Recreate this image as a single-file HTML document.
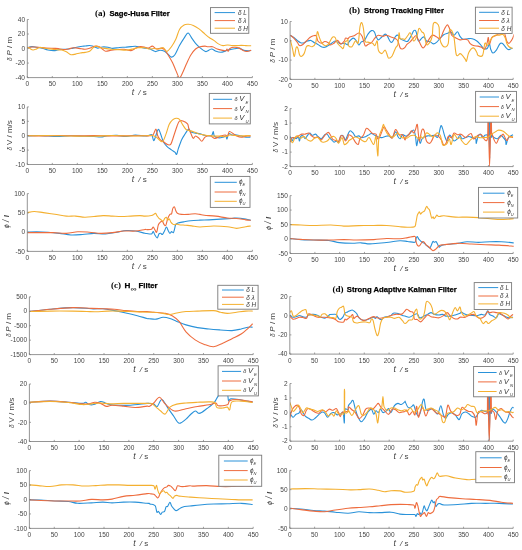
<!DOCTYPE html>
<html><head><meta charset="utf-8"><style>
html,body{margin:0;padding:0;background:#fff;width:522px;height:550px;overflow:hidden}
svg{display:block;filter:blur(0.3px)}
</style></head><body>
<svg width="522" height="550" viewBox="0 0 522 550" font-family="Liberation Sans, sans-serif">
<rect width="522" height="550" fill="#fff"/>
<g><clipPath id="clip_a1"><rect x="27.3" y="19" width="225.6" height="58.6"/></clipPath><path clip-path="url(#clip_a1)" d="M27.3,47.77C28.07,47.58 30.36,46.72 31.9,46.62C33.43,46.52 34.77,46.91 36.49,47.2C38.22,47.48 40.33,47.87 42.24,48.34C44.16,48.82 45.88,49.69 47.99,50.07C50.1,50.45 52.97,50.74 54.89,50.64C56.8,50.55 57.76,49.72 59.48,49.49C61.21,49.26 63.31,49.42 65.23,49.26C67.15,49.11 69.06,48.92 70.98,48.57C72.89,48.23 74.81,47.58 76.72,47.2C78.64,46.81 81.09,46.47 82.47,46.28C83.85,46.08 83.81,46.18 85,46.05C86.19,45.91 88.26,45.43 89.6,45.47C90.94,45.51 91.7,45.84 93.05,46.28C94.39,46.72 96.11,48 97.64,48.11C99.18,48.23 100.52,47.12 102.24,46.97C103.97,46.81 106.26,46.97 107.99,47.2C109.71,47.43 110.67,48.31 112.59,48.34C114.5,48.38 117.38,47.62 119.48,47.43C121.59,47.23 123.31,47.33 125.23,47.2C127.15,47.06 129.25,46.77 130.98,46.62C132.7,46.47 134.04,46.18 135.57,46.28C137.11,46.37 138.6,46.89 140.17,47.2C141.74,47.5 143.43,47.85 145,48.11C146.57,48.38 147.87,48.23 149.6,48.8C151.32,49.38 153.62,51.33 155.34,51.56C157.07,51.79 158.41,50.22 159.94,50.18C161.48,50.15 163.2,50.66 164.54,51.33C165.88,52 166.84,53.25 167.99,54.21C169.14,55.16 170.29,56.98 171.44,57.08C172.59,57.18 173.54,56.7 174.89,54.78C176.23,52.87 177.95,48.36 179.48,45.59C181.02,42.81 182.64,40.22 184.08,38.11C185.52,36.01 186.76,32.85 188.1,32.94C189.44,33.04 190.88,36.97 192.13,38.69C193.37,40.41 194.23,41.75 195.57,43.29C196.92,44.82 198.6,46.54 200.17,47.89C201.74,49.23 203.88,50.76 205,51.33C206.12,51.91 205.81,51.72 206.9,51.33C207.98,50.95 209.96,49.03 211.49,49.03C213.03,49.03 214.56,50.8 216.09,51.33C217.62,51.87 219.16,52.29 220.69,52.25C222.22,52.21 224.14,51.45 225.29,51.1C226.44,50.76 226.82,50.43 227.59,50.18C228.35,49.93 228.74,49.84 229.89,49.61C231.03,49.38 232.95,49.05 234.48,48.8C236.02,48.56 237.55,47.89 239.08,48.11C240.61,48.34 242.15,49.74 243.68,50.18C245.21,50.62 247.03,50.72 248.28,50.76C249.52,50.8 250.67,50.47 251.15,50.41" fill="none" stroke="#2a92d9" stroke-width="1.1" stroke-linejoin="round"/><path clip-path="url(#clip_a1)" d="M27.3,47.77C28.07,47.64 29.98,47.06 31.9,46.97C33.81,46.87 36.49,47 38.79,47.2C41.09,47.39 43.2,47.92 45.69,48.11C48.18,48.31 51.63,48.27 53.74,48.34C55.84,48.42 56.8,48.38 58.33,48.57C59.87,48.77 61.21,49.44 62.93,49.49C64.66,49.55 66.95,49.21 68.68,48.92C70.4,48.63 71.55,47.87 73.28,47.77C75,47.67 77.07,48.1 79.02,48.34C80.98,48.59 83.24,49.26 85,49.26C86.76,49.26 88.07,48.84 89.6,48.34C91.13,47.85 92.66,46.56 94.2,46.28C95.73,45.99 97.45,46.18 98.79,46.62C100.13,47.06 101.09,48.15 102.24,48.92C103.39,49.69 104.35,50.97 105.69,51.22C107.03,51.47 108.37,50.7 110.29,50.41C112.2,50.13 114.89,49.69 117.18,49.49C119.48,49.3 121.78,49.07 124.08,49.26C126.38,49.46 129.06,50.8 130.98,50.64C132.89,50.49 134.04,49.02 135.57,48.34C137.11,47.67 138.6,46.81 140.17,46.62C141.74,46.43 143.62,46.95 145,47.2C146.38,47.44 147.2,48.29 148.45,48.11C149.69,47.94 151.13,46.01 152.47,46.16C153.81,46.31 155.06,48.71 156.49,49.03C157.93,49.36 159.75,48.02 161.09,48.11C162.43,48.21 163.39,48.5 164.54,49.61C165.69,50.72 166.65,52.58 167.99,54.78C169.33,56.98 171.25,60.15 172.59,62.83C173.93,65.51 174.89,68.38 176.03,70.87C177.18,73.36 178.33,77.58 179.48,77.77C180.63,77.96 181.78,74.32 182.93,72.02C184.08,69.72 185.04,66.85 186.38,63.98C187.72,61.1 189.44,57.27 190.98,54.78C192.51,52.29 194.04,50.38 195.57,49.03C197.11,47.69 198.6,47.21 200.17,46.74C201.74,46.26 203.69,46.16 205,46.16C206.31,46.16 206.77,46.64 208.05,46.74C209.32,46.83 211.11,46.35 212.64,46.74C214.18,47.12 215.52,48.42 217.24,49.03C218.97,49.65 221.55,50.13 222.99,50.41C224.43,50.7 225.19,50.99 225.86,50.76C226.53,50.53 226.63,48.94 227.01,49.03C227.39,49.13 227.68,51.43 228.16,51.33C228.64,51.24 228.83,49.13 229.89,48.46C230.94,47.79 232.95,47.37 234.48,47.31C236.02,47.25 237.55,47.54 239.08,48.11C240.61,48.69 242.34,50.22 243.68,50.76C245.02,51.3 245.88,51.43 247.13,51.33C248.37,51.24 250.48,50.38 251.15,50.18" fill="none" stroke="#ee6c3e" stroke-width="1.1" stroke-linejoin="round"/><path clip-path="url(#clip_a1)" d="M27.3,47.2C27.68,47.39 28.64,47.87 29.6,48.34C30.56,48.82 31.9,49.97 33.05,50.07C34.2,50.16 35.34,49.36 36.49,48.92C37.64,48.48 38.6,47.56 39.94,47.43C41.28,47.29 42.82,47.87 44.54,48.11C46.26,48.36 48.18,48.65 50.29,48.92C52.39,49.19 55.27,49.53 57.18,49.72C59.1,49.92 60.25,49.72 61.78,50.07C63.31,50.41 64.85,51.03 66.38,51.79C67.91,52.56 69.44,54.28 70.98,54.67C72.51,55.05 74.04,54.38 75.57,54.09C77.11,53.8 78.6,53.23 80.17,52.94C81.74,52.66 83.43,52.66 85,52.37C86.57,52.08 88.26,51.98 89.6,51.22C90.94,50.45 91.9,48.63 93.05,47.77C94.2,46.91 95.34,46.1 96.49,46.05C97.64,45.99 98.6,47.04 99.94,47.43C101.28,47.81 102.62,48.04 104.54,48.34C106.46,48.65 108.95,49.03 111.44,49.26C113.93,49.49 116.99,49.59 119.48,49.72C121.97,49.86 124.08,50.2 126.38,50.07C128.68,49.93 131.36,49.3 133.28,48.92C135.19,48.54 135.92,47.96 137.87,47.77C139.83,47.58 143.05,47.56 145,47.77C146.95,47.98 148.07,48.92 149.6,49.03C151.13,49.15 152.66,48.46 154.2,48.46C155.73,48.46 157.26,49.17 158.79,49.03C160.33,48.9 162.05,47.27 163.39,47.66C164.73,48.04 165.5,51.49 166.84,51.33C168.18,51.18 169.9,48.84 171.44,46.74C172.97,44.63 174.69,41.56 176.03,38.69C177.38,35.82 178.14,31.79 179.48,29.49C180.82,27.2 182.55,25.76 184.08,24.9C185.61,24.03 187.15,24.23 188.68,24.32C190.21,24.42 191.55,24.7 193.28,25.47C195,26.24 197.07,27.48 199.02,28.92C200.98,30.36 203.3,32.66 205,34.09C206.7,35.53 207.73,36.49 209.2,37.54C210.66,38.59 212.26,39.36 213.79,40.41C215.33,41.47 216.86,43 218.39,43.86C219.92,44.72 221.46,45.39 222.99,45.59C224.52,45.78 226.05,45.01 227.59,45.01C229.12,45.01 230.65,45.49 232.18,45.59C233.72,45.68 235.25,45.62 236.78,45.59C238.31,45.55 239.85,45.36 241.38,45.36C242.91,45.36 244.35,45.51 245.98,45.59C247.61,45.66 250.29,45.78 251.15,45.82" fill="none" stroke="#f4b030" stroke-width="1.1" stroke-linejoin="round"/><path d="M27.3 19.5 V77.6 H252.4" fill="none" stroke="#7a7a7a" stroke-width="0.8"/><text x="27.3" y="86" text-anchor="middle" font-size="6.5" fill="#444444">0</text><text x="52.31" y="86" text-anchor="middle" font-size="6.5" fill="#444444">50</text><text x="77.32" y="86" text-anchor="middle" font-size="6.5" fill="#444444">100</text><text x="102.33" y="86" text-anchor="middle" font-size="6.5" fill="#444444">150</text><text x="127.34" y="86" text-anchor="middle" font-size="6.5" fill="#444444">200</text><text x="152.36" y="86" text-anchor="middle" font-size="6.5" fill="#444444">250</text><text x="177.37" y="86" text-anchor="middle" font-size="6.5" fill="#444444">300</text><text x="202.38" y="86" text-anchor="middle" font-size="6.5" fill="#444444">350</text><text x="227.39" y="86" text-anchor="middle" font-size="6.5" fill="#444444">400</text><text x="252.4" y="86" text-anchor="middle" font-size="6.5" fill="#444444">450</text><text x="25" y="79.8" text-anchor="end" font-size="6.5" fill="#444444">-40</text><text x="25" y="65.27" text-anchor="end" font-size="6.5" fill="#444444">-20</text><text x="25" y="50.75" text-anchor="end" font-size="6.5" fill="#444444">0</text><text x="25" y="36.23" text-anchor="end" font-size="6.5" fill="#444444">20</text><text x="25" y="21.7" text-anchor="end" font-size="6.5" fill="#444444">40</text><path d="M27.3 77.6 v-1.6 M52.31 77.6 v-1.6 M77.32 77.6 v-1.6 M102.33 77.6 v-1.6 M127.34 77.6 v-1.6 M152.36 77.6 v-1.6 M177.37 77.6 v-1.6 M202.38 77.6 v-1.6 M227.39 77.6 v-1.6 M252.4 77.6 v-1.6 M27.3 77.6 h1.6 M27.3 63.07 h1.6 M27.3 48.55 h1.6 M27.3 34.02 h1.6 M27.3 19.5 h1.6" stroke="#7a7a7a" stroke-width="0.7"/><text y="95" text-anchor="middle" font-size="8" fill="#444444"><tspan x="133.05" font-style="italic" font-size="8.8">t</tspan><tspan x="139.45" font-style="italic">/</tspan><tspan x="144.75">s</tspan></text><text transform="translate(12.2,48.85) rotate(-90)" text-anchor="middle" font-size="8" fill="#444444"><tspan font-style="italic" font-size="6.5">δ </tspan><tspan font-style="italic">P</tspan> / m</text><rect x="210.5" y="7.6" width="38.3" height="25.7" fill="#fff" stroke="#7a7a7a" stroke-width="0.9"/><line x1="214.6" y1="12.6" x2="235" y2="12.6" stroke="#2a92d9" stroke-width="1"/><text x="238" y="15" font-size="6.4" font-style="italic" fill="#383838">δ <tspan font-style="italic">L</tspan></text><line x1="214.6" y1="20.6" x2="235" y2="20.6" stroke="#ee6c3e" stroke-width="1"/><text x="238" y="23" font-size="6.4" font-style="italic" fill="#383838">δ λ</text><line x1="214.6" y1="28.2" x2="235" y2="28.2" stroke="#f4b030" stroke-width="1"/><text x="238" y="30.6" font-size="6.4" font-style="italic" fill="#383838">δ <tspan font-style="italic">H</tspan></text></g><g><clipPath id="clip_a2"><rect x="27.3" y="106.4" width="225.6" height="58.1"/></clipPath><path clip-path="url(#clip_a2)" d="M27.3,136.03C29.21,135.96 35.34,135.57 38.79,135.57C42.24,135.57 44.92,135.88 47.99,136.03C51.05,136.19 53.35,136.53 57.18,136.49C61.02,136.46 66.38,135.84 70.98,135.8C75.57,135.77 80.94,136.15 84.77,136.26C88.6,136.38 91.28,136.38 93.97,136.49C96.65,136.61 98.56,137.07 100.86,136.95C103.16,136.84 105.08,136.07 107.76,135.8C110.44,135.54 113.89,135.23 116.95,135.34C120.02,135.46 123.08,136.53 126.15,136.49C129.21,136.46 132.2,135.19 135.34,135.11C138.49,135.04 142.62,136.03 145,136.03C147.38,136.03 148.45,135.31 149.6,135.11C150.75,134.92 151.23,133.97 151.9,134.89C152.57,135.8 153.05,140.25 153.62,140.63C154.2,141.02 154.58,139.06 155.34,137.18C156.11,135.31 157.36,129.94 158.22,129.37C159.08,128.79 159.66,131.67 160.52,133.74C161.38,135.8 162.34,139.67 163.39,141.78C164.44,143.89 165.5,145.04 166.84,146.38C168.18,147.72 170.1,148.87 171.44,149.83C172.78,150.79 174.02,151.36 174.89,152.13C175.75,152.89 176.03,155 176.61,154.43C177.18,153.85 177.47,151.17 178.33,148.68C179.2,146.19 180.63,141.97 181.78,139.48C182.93,136.99 184.08,135.46 185.23,133.74C186.38,132.01 187.72,129.43 188.68,129.14C189.64,128.85 189.83,131.34 190.98,132.01C192.13,132.68 194.04,132.87 195.57,133.16C197.11,133.45 198.6,133.35 200.17,133.74C201.74,134.12 203.11,135.16 205,135.46C206.89,135.76 210.12,136.18 211.49,135.52C212.86,134.86 212.74,131.4 213.22,131.49C213.7,131.59 213.51,135.04 214.37,136.09C215.23,137.15 216.95,137.62 218.39,137.82C219.83,138.01 221.74,137.53 222.99,137.24C224.23,136.95 225.19,135.8 225.86,136.09C226.53,136.38 226.53,139.35 227.01,138.97C227.49,138.58 227.87,134.46 228.74,133.79C229.6,133.12 230.84,134.75 232.18,134.94C233.52,135.13 235.25,134.75 236.78,134.94C238.31,135.13 239.85,135.71 241.38,136.09C242.91,136.48 244.44,137.09 245.98,137.24C247.51,137.39 249.81,137.05 250.57,137.01" fill="none" stroke="#2a92d9" stroke-width="1.1" stroke-linejoin="round"/><path clip-path="url(#clip_a2)" d="M27.3,135.57C29.98,135.65 38.03,136.03 43.39,136.03C48.75,136.03 54.12,135.61 59.48,135.57C64.85,135.54 69.83,135.8 75.57,135.8C81.32,135.8 87.84,135.54 93.97,135.57C100.1,135.61 106.61,136 112.36,136.03C118.1,136.07 123.01,135.84 128.45,135.8C133.89,135.77 141.48,135.8 145,135.8C148.52,135.8 148.26,135.96 149.6,135.8C150.94,135.65 151.99,136 153.05,134.89C154.1,133.77 155.15,129.04 155.92,129.14C156.69,129.23 156.97,133.74 157.64,135.46C158.31,137.18 158.98,138.43 159.94,139.48C160.9,140.54 162.05,140.92 163.39,141.78C164.73,142.64 166.74,144.27 167.99,144.66C169.23,145.04 169.9,145.52 170.86,144.08C171.82,142.64 172.68,139.1 173.74,136.03C174.79,132.97 176.23,128.18 177.18,125.69C178.14,123.2 178.52,121.86 179.48,121.09C180.44,120.33 181.59,120.61 182.93,121.09C184.27,121.57 186.57,122.82 187.53,123.97C188.49,125.11 188.1,126.36 188.68,127.99C189.25,129.62 190.21,132.01 190.98,133.74C191.74,135.46 192.51,137.95 193.28,138.33C194.04,138.72 194.62,136.03 195.57,136.03C196.53,136.03 197.97,137.47 199.02,138.33C200.08,139.2 200.9,141.4 201.9,141.21C202.89,141.02 203.78,138.13 205,137.18C206.22,136.24 207.92,135.51 209.2,135.52C210.47,135.53 211.69,136.76 212.64,137.24C213.6,137.72 213.6,138.58 214.94,138.39C216.28,138.2 218.97,136.67 220.69,136.09C222.41,135.52 224.14,134.94 225.29,134.94C226.44,134.94 226.92,136.67 227.59,136.09C228.26,135.52 228.35,131.88 229.31,131.49C230.27,131.11 232.09,133.03 233.33,133.79C234.58,134.56 235.44,135.52 236.78,136.09C238.12,136.67 239.85,137.24 241.38,137.24C242.91,137.24 244.44,136.28 245.98,136.09C247.51,135.9 249.81,136.09 250.57,136.09" fill="none" stroke="#ee6c3e" stroke-width="1.1" stroke-linejoin="round"/><path clip-path="url(#clip_a2)" d="M27.3,135.8C30.75,135.77 40.71,135.54 47.99,135.57C55.27,135.61 63.31,135.92 70.98,136.03C78.64,136.15 87.07,136.34 93.97,136.26C100.86,136.19 106.61,135.61 112.36,135.57C118.1,135.54 123.01,136 128.45,136.03C133.89,136.07 141.09,135.9 145,135.8C148.91,135.71 149.98,135.23 151.9,135.46C153.81,135.69 154.77,136.13 156.49,137.18C158.22,138.24 160.71,142.16 162.24,141.78C163.77,141.4 164.54,137.76 165.69,134.89C166.84,132.01 167.99,127.03 169.14,124.54C170.29,122.05 171.44,121 172.59,119.94C173.74,118.89 174.89,118.31 176.03,118.22C177.18,118.12 178.33,118.22 179.48,119.37C180.63,120.52 181.78,123.39 182.93,125.11C184.08,126.84 185.04,128.75 186.38,129.71C187.72,130.67 189.44,130.38 190.98,130.86C192.51,131.34 194.04,132.01 195.57,132.59C197.11,133.16 198.6,133.89 200.17,134.31C201.74,134.73 203.88,134.91 205,135.11C206.12,135.32 205.43,135.35 206.9,135.52C208.36,135.68 211.49,136 213.79,136.09C216.09,136.19 218.77,136 220.69,136.09C222.61,136.19 223.75,136.86 225.29,136.67C226.82,136.48 228.35,135.13 229.89,134.94C231.42,134.75 232.57,135.36 234.48,135.52C236.4,135.67 238.7,135.86 241.38,135.86C244.06,135.86 249.04,135.57 250.57,135.52" fill="none" stroke="#f4b030" stroke-width="1.1" stroke-linejoin="round"/><path d="M27.3 106.9 V164.5 H252.4" fill="none" stroke="#7a7a7a" stroke-width="0.8"/><text x="27.3" y="172.9" text-anchor="middle" font-size="6.5" fill="#444444">0</text><text x="52.31" y="172.9" text-anchor="middle" font-size="6.5" fill="#444444">50</text><text x="77.32" y="172.9" text-anchor="middle" font-size="6.5" fill="#444444">100</text><text x="102.33" y="172.9" text-anchor="middle" font-size="6.5" fill="#444444">150</text><text x="127.34" y="172.9" text-anchor="middle" font-size="6.5" fill="#444444">200</text><text x="152.36" y="172.9" text-anchor="middle" font-size="6.5" fill="#444444">250</text><text x="177.37" y="172.9" text-anchor="middle" font-size="6.5" fill="#444444">300</text><text x="202.38" y="172.9" text-anchor="middle" font-size="6.5" fill="#444444">350</text><text x="227.39" y="172.9" text-anchor="middle" font-size="6.5" fill="#444444">400</text><text x="252.4" y="172.9" text-anchor="middle" font-size="6.5" fill="#444444">450</text><text x="25" y="166.7" text-anchor="end" font-size="6.5" fill="#444444">-10</text><text x="25" y="152.3" text-anchor="end" font-size="6.5" fill="#444444">-5</text><text x="25" y="137.9" text-anchor="end" font-size="6.5" fill="#444444">0</text><text x="25" y="123.5" text-anchor="end" font-size="6.5" fill="#444444">5</text><text x="25" y="109.1" text-anchor="end" font-size="6.5" fill="#444444">10</text><path d="M27.3 164.5 v-1.6 M52.31 164.5 v-1.6 M77.32 164.5 v-1.6 M102.33 164.5 v-1.6 M127.34 164.5 v-1.6 M152.36 164.5 v-1.6 M177.37 164.5 v-1.6 M202.38 164.5 v-1.6 M227.39 164.5 v-1.6 M252.4 164.5 v-1.6 M27.3 164.5 h1.6 M27.3 150.1 h1.6 M27.3 135.7 h1.6 M27.3 121.3 h1.6 M27.3 106.9 h1.6" stroke="#7a7a7a" stroke-width="0.7"/><text y="181.9" text-anchor="middle" font-size="8" fill="#444444"><tspan x="133.05" font-style="italic" font-size="8.8">t</tspan><tspan x="139.45" font-style="italic">/</tspan><tspan x="144.75">s</tspan></text><text transform="translate(11.5,135.35) rotate(-90)" text-anchor="middle" font-size="8" fill="#444444"><tspan font-style="italic" font-size="6.5">δ </tspan><tspan>V</tspan> / m/s</text><rect x="209.3" y="93.4" width="41" height="30.5" fill="#fff" stroke="#7a7a7a" stroke-width="0.9"/><line x1="213.1" y1="99.3" x2="232.1" y2="99.3" stroke="#2a92d9" stroke-width="1"/><text x="234.5" y="101.3" font-size="6.4" font-style="italic" fill="#383838"><tspan font-size="5.5">δ</tspan> <tspan font-size="7.6">V</tspan><tspan font-size="4.3" dx="1" dy="2.8">E</tspan></text><line x1="213.1" y1="108.6" x2="232.1" y2="108.6" stroke="#ee6c3e" stroke-width="1"/><text x="234.5" y="110.6" font-size="6.4" font-style="italic" fill="#383838"><tspan font-size="5.5">δ</tspan> <tspan font-size="7.6">V</tspan><tspan font-size="4.3" dx="1" dy="2.8">N</tspan></text><line x1="213.1" y1="118.1" x2="232.1" y2="118.1" stroke="#f4b030" stroke-width="1"/><text x="234.5" y="120.1" font-size="6.4" font-style="italic" fill="#383838"><tspan font-size="5.5">δ</tspan> <tspan font-size="7.6">V</tspan><tspan font-size="4.3" dx="1" dy="2.8">U</tspan></text></g><g><clipPath id="clip_a3"><rect x="27.3" y="193.1" width="225.6" height="58.3"/></clipPath><path clip-path="url(#clip_a3)" d="M27.3,232.18C28.83,232.11 33.05,231.72 36.49,231.72C39.94,231.72 44.16,231.92 47.99,232.18C51.82,232.45 55.65,232.87 59.48,233.33C63.31,233.79 67.15,234.75 70.98,234.94C74.81,235.13 78.64,234.75 82.47,234.48C86.3,234.21 90.13,233.41 93.97,233.33C97.8,233.26 101.63,234.21 105.46,234.02C109.29,233.83 113.51,232.76 116.95,232.18C120.4,231.61 123.08,230.77 126.15,230.57C129.21,230.38 132.2,230.57 135.34,231.03C138.49,231.49 143.07,232.91 145,233.33C146.93,233.75 145.81,233.47 146.9,233.56C147.98,233.66 150.44,234.23 151.49,233.91C152.55,233.58 152.64,231.42 153.22,231.61C153.79,231.8 154.27,234 154.94,235.06C155.61,236.11 156.57,238.12 157.24,237.93C157.91,237.74 158.39,234.67 158.97,233.91C159.54,233.14 160.11,233.24 160.69,233.33C161.26,233.43 161.74,234.96 162.41,234.48C163.08,234 164.04,231.7 164.71,230.46C165.38,229.21 165.86,227.01 166.44,227.01C167.01,227.01 167.59,229.41 168.16,230.46C168.74,231.51 169.31,233.14 169.89,233.33C170.46,233.52 171.03,231.7 171.61,231.61C172.18,231.51 172.85,233.14 173.33,232.76C173.81,232.38 174.1,230.65 174.48,229.31C174.87,227.97 175.06,225.77 175.63,224.71C176.21,223.66 176.59,223.47 177.93,222.99C179.27,222.51 181.57,222.22 183.68,221.84C185.79,221.46 187.85,220.98 190.57,220.69C193.3,220.4 196.93,220.26 200,220.11C203.07,219.97 205.56,219.99 208.97,219.83C212.38,219.66 216.63,219.37 220.46,219.14C224.29,218.91 229.27,218.64 231.95,218.45C234.64,218.26 234.25,217.87 236.55,217.99C238.85,218.1 243.37,218.75 245.75,219.14C248.12,219.52 249.96,220.1 250.8,220.29" fill="none" stroke="#2a92d9" stroke-width="1.1" stroke-linejoin="round"/><path clip-path="url(#clip_a3)" d="M27.3,232.64C29.21,232.64 34.58,232.64 38.79,232.64C43.01,232.64 47.99,232.53 52.59,232.64C57.18,232.76 62.16,233.49 66.38,233.33C70.59,233.18 74.04,231.92 77.87,231.72C81.7,231.53 85.54,231.92 89.37,232.18C93.2,232.45 97.03,233.26 100.86,233.33C104.69,233.41 108.52,233.03 112.36,232.64C116.19,232.26 120.02,231.3 123.85,231.03C127.68,230.77 131.82,231.3 135.34,231.03C138.87,230.77 143.07,229.66 145,229.43C146.93,229.2 145.81,229.67 146.9,229.66C147.98,229.64 150.44,229.75 151.49,229.31C152.55,228.87 152.64,226.92 153.22,227.01C153.79,227.11 154.37,229.02 154.94,229.89C155.52,230.75 156.09,233.05 156.67,232.18C157.24,231.32 157.72,226.44 158.39,224.71C159.06,222.99 160.02,222.41 160.69,221.84C161.36,221.26 161.84,220.79 162.41,221.26C162.99,221.74 163.56,224.04 164.14,224.71C164.71,225.38 165.29,226.25 165.86,225.29C166.44,224.33 166.92,220.79 167.59,218.97C168.26,217.15 169.21,215.23 169.89,214.37C170.56,213.51 171.13,214.75 171.61,213.79C172.09,212.84 172.28,209.77 172.76,208.62C173.24,207.47 174,206.61 174.48,206.9C174.96,207.18 175.15,209.29 175.63,210.34C176.11,211.4 176.4,212.55 177.36,213.22C178.31,213.89 179.56,214.18 181.38,214.37C183.2,214.56 185.98,214.46 188.28,214.37C190.57,214.27 193.22,213.79 195.17,213.79C197.13,213.79 198.47,214.13 200,214.37C201.53,214.61 201.72,214.93 204.37,215.23C207.01,215.53 212.03,215.69 215.86,216.15C219.69,216.61 223.91,217.61 227.36,217.99C230.8,218.37 233.49,218.14 236.55,218.45C239.62,218.75 243.37,219.52 245.75,219.83C248.12,220.13 249.96,220.21 250.8,220.29" fill="none" stroke="#ee6c3e" stroke-width="1.1" stroke-linejoin="round"/><path clip-path="url(#clip_a3)" d="M27.3,212.64C28.45,212.45 31.51,211.49 34.2,211.49C36.88,211.49 39.94,212.18 43.39,212.64C46.84,213.1 51.05,213.68 54.89,214.25C58.72,214.83 62.93,215.79 66.38,216.09C69.83,216.4 72.51,215.9 75.57,216.09C78.64,216.28 81.7,217.16 84.77,217.24C87.84,217.32 90.9,216.82 93.97,216.55C97.03,216.28 100.1,215.71 103.16,215.63C106.23,215.56 109.29,215.94 112.36,216.09C115.42,216.25 118.49,216.55 121.55,216.55C124.62,216.55 127.68,216.25 130.75,216.09C133.81,215.94 137.57,215.63 139.94,215.63C142.32,215.63 143.07,216.11 145,216.09C146.93,216.07 150.03,215.8 151.49,215.52C152.96,215.23 153.12,214.75 153.79,214.37C154.46,213.98 154.94,212.93 155.52,213.22C156.09,213.51 156.67,215.23 157.24,216.09C157.82,216.95 158.39,217.82 158.97,218.39C159.54,218.97 160.02,219.06 160.69,219.54C161.36,220.02 162.32,221.46 162.99,221.26C163.66,221.07 164.14,219.06 164.71,218.39C165.29,217.72 165.96,216.95 166.44,217.24C166.92,217.53 167.11,219.83 167.59,220.11C168.07,220.4 168.74,218.58 169.31,218.97C169.89,219.35 170.46,221.55 171.03,222.41C171.61,223.28 172.18,223.75 172.76,224.14C173.33,224.52 173.91,224.71 174.48,224.71C175.06,224.71 175.44,224.14 176.21,224.14C176.97,224.14 177.45,224.52 179.08,224.71C180.71,224.9 183.87,225.1 185.98,225.29C188.08,225.48 189.39,225.57 191.72,225.86C194.06,226.15 196.36,226.98 200,227.01C203.64,227.04 209,226.08 213.56,226.03C218.12,225.99 223.52,226.34 227.36,226.72C231.19,227.11 233.49,228.33 236.55,228.33C239.62,228.33 243.37,227.11 245.75,226.72C248.12,226.34 249.96,226.15 250.8,226.03" fill="none" stroke="#f4b030" stroke-width="1.1" stroke-linejoin="round"/><path d="M27.3 193.6 V251.4 H252.4" fill="none" stroke="#7a7a7a" stroke-width="0.8"/><text x="27.3" y="259.8" text-anchor="middle" font-size="6.5" fill="#444444">0</text><text x="52.31" y="259.8" text-anchor="middle" font-size="6.5" fill="#444444">50</text><text x="77.32" y="259.8" text-anchor="middle" font-size="6.5" fill="#444444">100</text><text x="102.33" y="259.8" text-anchor="middle" font-size="6.5" fill="#444444">150</text><text x="127.34" y="259.8" text-anchor="middle" font-size="6.5" fill="#444444">200</text><text x="152.36" y="259.8" text-anchor="middle" font-size="6.5" fill="#444444">250</text><text x="177.37" y="259.8" text-anchor="middle" font-size="6.5" fill="#444444">300</text><text x="202.38" y="259.8" text-anchor="middle" font-size="6.5" fill="#444444">350</text><text x="227.39" y="259.8" text-anchor="middle" font-size="6.5" fill="#444444">400</text><text x="252.4" y="259.8" text-anchor="middle" font-size="6.5" fill="#444444">450</text><text x="25" y="253.6" text-anchor="end" font-size="6.5" fill="#444444">-50</text><text x="25" y="234.33" text-anchor="end" font-size="6.5" fill="#444444">0</text><text x="25" y="215.07" text-anchor="end" font-size="6.5" fill="#444444">50</text><text x="25" y="195.8" text-anchor="end" font-size="6.5" fill="#444444">100</text><path d="M27.3 251.4 v-1.6 M52.31 251.4 v-1.6 M77.32 251.4 v-1.6 M102.33 251.4 v-1.6 M127.34 251.4 v-1.6 M152.36 251.4 v-1.6 M177.37 251.4 v-1.6 M202.38 251.4 v-1.6 M227.39 251.4 v-1.6 M252.4 251.4 v-1.6 M27.3 251.4 h1.6 M27.3 232.13 h1.6 M27.3 212.87 h1.6 M27.3 193.6 h1.6" stroke="#7a7a7a" stroke-width="0.7"/><text y="268.8" text-anchor="middle" font-size="8" fill="#444444"><tspan x="133.05" font-style="italic" font-size="8.8">t</tspan><tspan x="139.45" font-style="italic">/</tspan><tspan x="144.75">s</tspan></text><text transform="translate(9.44,221.5) rotate(-90)" text-anchor="middle" font-size="8.5" fill="#444444"><tspan font-style="italic"><tspan font-size="7">ϕ</tspan>  /  <tspan font-weight="bold">ı</tspan></tspan></text><rect x="210.3" y="176.4" width="39.7" height="31" fill="#fff" stroke="#7a7a7a" stroke-width="0.9"/><line x1="214.6" y1="182.3" x2="236.8" y2="182.3" stroke="#2a92d9" stroke-width="1"/><text x="239" y="184.3" font-size="6.4" font-style="italic" fill="#383838">ϕ<tspan font-size="4" dy="2">E</tspan></text><line x1="214.6" y1="192" x2="236.8" y2="192" stroke="#ee6c3e" stroke-width="1"/><text x="239" y="194" font-size="6.4" font-style="italic" fill="#383838">ϕ<tspan font-size="4" dy="2">N</tspan></text><line x1="214.6" y1="201.3" x2="236.8" y2="201.3" stroke="#f4b030" stroke-width="1"/><text x="239" y="203.3" font-size="6.4" font-style="italic" fill="#383838">ϕ<tspan font-size="4" dy="2">U</tspan></text></g><g><clipPath id="clip_c1"><rect x="29.4" y="296.3" width="224.3" height="58.3"/></clipPath><path clip-path="url(#clip_c1)" d="M29.3,311.55C32.75,311.17 42.71,309.9 49.99,309.25C57.27,308.6 66.08,307.72 72.98,307.64C79.87,307.57 86.39,308.6 91.37,308.79C96.35,308.98 99.03,308.49 102.86,308.79C106.69,309.1 110.52,309.94 114.36,310.63C118.19,311.32 122.02,312.09 125.85,312.93C129.68,313.77 133.82,314.77 137.34,315.69C140.87,316.61 145.02,317.95 147,318.45C148.98,318.95 147.68,318.56 149.2,318.68C150.71,318.79 153.79,319.37 156.09,319.14C158.39,318.91 160.69,317.41 162.99,317.3C165.29,317.18 167.59,317.76 169.89,318.45C172.18,319.14 174.1,320.36 176.78,321.44C179.46,322.51 182.53,323.85 185.98,324.89C189.43,325.92 193.64,326.95 197.47,327.64C201.3,328.33 205.13,328.64 208.97,329.02C212.8,329.41 216.63,329.67 220.46,329.94C224.29,330.21 228.51,330.79 231.95,330.63C235.4,330.48 238.47,329.6 241.15,329.02C243.83,328.45 246.13,327.49 248.05,327.18C249.96,326.88 251.88,327.18 252.64,327.18" fill="none" stroke="#2a92d9" stroke-width="1.1" stroke-linejoin="round"/><path clip-path="url(#clip_c1)" d="M29.3,311.55C32.75,311.17 42.71,309.9 49.99,309.25C57.27,308.6 66.08,307.8 72.98,307.64C79.87,307.49 86.39,308.14 91.37,308.33C96.35,308.52 99.03,308.64 102.86,308.79C106.69,308.95 110.52,308.95 114.36,309.25C118.19,309.56 122.02,310.25 125.85,310.63C129.68,311.02 133.82,311.4 137.34,311.55C140.87,311.7 144.26,311.44 147,311.55C149.74,311.67 150.75,311.93 153.79,312.24C156.84,312.55 162.22,312.82 165.29,313.39C168.35,313.97 169.89,314.35 172.18,315.69C174.48,317.03 176.78,318.75 179.08,321.44C181.38,324.12 183.3,328.72 185.98,331.78C188.66,334.85 192.11,337.72 195.17,339.83C198.24,341.93 201.3,343.28 204.37,344.43C207.43,345.57 210.5,346.92 213.56,346.72C216.63,346.53 219.69,344.62 222.76,343.28C225.82,341.93 228.89,340.21 231.95,338.68C235.02,337.15 238.47,335.8 241.15,334.08C243.83,332.36 246.13,330.06 248.05,328.33C249.96,326.61 251.88,324.5 252.64,323.74" fill="none" stroke="#ee6c3e" stroke-width="1.1" stroke-linejoin="round"/><path clip-path="url(#clip_c1)" d="M29.3,311.55C32.75,311.48 42.71,311.17 49.99,311.09C57.27,311.02 66.85,311.02 72.98,311.09C79.11,311.17 82.94,311.44 86.77,311.55C90.6,311.67 92.52,311.86 95.97,311.78C99.41,311.7 103.63,311.21 107.46,311.09C111.29,310.98 115.12,311.02 118.95,311.09C122.79,311.17 125.77,311.36 130.45,311.55C135.12,311.74 143.11,312.13 147,312.24C150.89,312.36 151.13,312.05 153.79,312.24C156.46,312.43 160.31,313.01 162.99,313.39C165.67,313.77 167.59,314.62 169.89,314.54C172.18,314.46 174.1,313.43 176.78,312.93C179.46,312.43 182.53,311.86 185.98,311.55C189.43,311.25 192.87,311.25 197.47,311.09C202.07,310.94 209.73,310.44 213.56,310.63C217.39,310.82 218.16,311.78 220.46,312.24C222.76,312.7 224.67,313.39 227.36,313.39C230.04,313.39 233.49,312.62 236.55,312.24C239.62,311.86 243.07,311.28 245.75,311.09C248.43,310.9 251.49,311.09 252.64,311.09" fill="none" stroke="#f4b030" stroke-width="1.1" stroke-linejoin="round"/><path d="M29.4 296.8 V354.6 H253.2" fill="none" stroke="#7a7a7a" stroke-width="0.8"/><text x="29.4" y="363" text-anchor="middle" font-size="6.5" fill="#444444">0</text><text x="54.27" y="363" text-anchor="middle" font-size="6.5" fill="#444444">50</text><text x="79.13" y="363" text-anchor="middle" font-size="6.5" fill="#444444">100</text><text x="104" y="363" text-anchor="middle" font-size="6.5" fill="#444444">150</text><text x="128.87" y="363" text-anchor="middle" font-size="6.5" fill="#444444">200</text><text x="153.73" y="363" text-anchor="middle" font-size="6.5" fill="#444444">250</text><text x="178.6" y="363" text-anchor="middle" font-size="6.5" fill="#444444">300</text><text x="203.47" y="363" text-anchor="middle" font-size="6.5" fill="#444444">350</text><text x="228.33" y="363" text-anchor="middle" font-size="6.5" fill="#444444">400</text><text x="253.2" y="363" text-anchor="middle" font-size="6.5" fill="#444444">450</text><text x="27.1" y="356.8" text-anchor="end" font-size="6.5" fill="#444444">-1500</text><text x="27.1" y="342.35" text-anchor="end" font-size="6.5" fill="#444444">-1000</text><text x="27.1" y="327.9" text-anchor="end" font-size="6.5" fill="#444444">-500</text><text x="27.1" y="313.45" text-anchor="end" font-size="6.5" fill="#444444">0</text><text x="27.1" y="299" text-anchor="end" font-size="6.5" fill="#444444">500</text><path d="M29.4 354.6 v-1.6 M54.27 354.6 v-1.6 M79.13 354.6 v-1.6 M104 354.6 v-1.6 M128.87 354.6 v-1.6 M153.73 354.6 v-1.6 M178.6 354.6 v-1.6 M203.47 354.6 v-1.6 M228.33 354.6 v-1.6 M253.2 354.6 v-1.6 M29.4 354.6 h1.6 M29.4 340.15 h1.6 M29.4 325.7 h1.6 M29.4 311.25 h1.6 M29.4 296.8 h1.6" stroke="#7a7a7a" stroke-width="0.7"/><text y="372" text-anchor="middle" font-size="8" fill="#444444"><tspan x="134.5" font-style="italic" font-size="8.8">t</tspan><tspan x="140.9" font-style="italic">/</tspan><tspan x="146.2">s</tspan></text><text transform="translate(10.9,325.05) rotate(-90)" text-anchor="middle" font-size="8" fill="#444444"><tspan font-style="italic" font-size="6.5">δ </tspan><tspan font-style="italic">P</tspan> / m</text><rect x="217.8" y="285.3" width="40.3" height="23.9" fill="#fff" stroke="#7a7a7a" stroke-width="0.9"/><line x1="222" y1="290" x2="243.8" y2="290" stroke="#2a92d9" stroke-width="1"/><text x="246.2" y="292.4" font-size="6.4" font-style="italic" fill="#383838">δ <tspan font-style="italic">L</tspan></text><line x1="222" y1="297.2" x2="243.8" y2="297.2" stroke="#ee6c3e" stroke-width="1"/><text x="246.2" y="299.6" font-size="6.4" font-style="italic" fill="#383838">δ λ</text><line x1="222" y1="304.4" x2="243.8" y2="304.4" stroke="#f4b030" stroke-width="1"/><text x="246.2" y="306.8" font-size="6.4" font-style="italic" fill="#383838">δ <tspan font-style="italic">H</tspan></text></g><g><clipPath id="clip_c2"><rect x="29.4" y="383.5" width="224.3" height="58"/></clipPath><path clip-path="url(#clip_c2)" d="M29.3,402.24C32.75,402.05 43.48,401.09 49.99,401.09C56.5,401.09 63.02,401.86 68.38,402.24C73.74,402.62 79.3,403.39 82.17,403.39C85.05,403.39 84.47,402.05 85.62,402.24C86.77,402.43 87.73,404.16 89.07,404.54C90.41,404.92 91.75,405.04 93.67,404.54C95.58,404.04 98.65,401.82 100.56,401.55C102.48,401.28 103.63,402.43 105.16,402.93C106.69,403.43 107.46,404.16 109.76,404.54C112.06,404.92 115.51,405.11 118.95,405.23C122.4,405.34 125.77,405.54 130.45,405.23C135.12,404.92 143.88,403.69 147,403.39C150.12,403.09 148.06,403.32 149.2,403.45C150.33,403.57 152.45,403.64 153.79,404.14C155.13,404.64 155.9,407.2 157.24,406.44C158.58,405.67 160.11,399.35 161.84,399.54C163.56,399.73 165.67,404.9 167.59,407.59C169.5,410.27 171.42,413.03 173.33,415.63C175.25,418.24 176.97,422.64 179.08,423.22C181.19,423.79 184.06,420.54 185.98,419.08C187.89,417.62 189.04,415.82 190.57,414.48C192.11,413.14 193.83,411.23 195.17,411.03C196.51,410.84 197.47,413.14 198.62,413.33C199.77,413.52 200.73,412.95 202.07,412.18C203.41,411.42 205.13,409.89 206.67,408.74C208.2,407.59 209.92,406.44 211.26,405.29C212.61,404.14 213.56,403.37 214.71,401.84C215.86,400.31 216.82,397.82 218.16,396.09C219.5,394.37 221.23,391.88 222.76,391.49C224.29,391.11 226.4,392.26 227.36,393.79C228.31,395.33 227.93,399.85 228.51,400.69C229.08,401.53 229.08,399.04 230.8,398.85C232.53,398.66 236.36,399.16 238.85,399.54C241.34,399.92 243.45,400.77 245.75,401.15C248.05,401.53 251.49,401.72 252.64,401.84" fill="none" stroke="#2a92d9" stroke-width="1.1" stroke-linejoin="round"/><path clip-path="url(#clip_c2)" d="M29.3,402.24C32.75,402.05 43.48,401.09 49.99,401.09C56.5,401.09 63.02,401.78 68.38,402.24C73.74,402.7 78.72,403.58 82.17,403.85C85.62,404.12 86.96,404.12 89.07,403.85C91.18,403.58 92.9,402.32 94.82,402.24C96.73,402.16 98.65,402.7 100.56,403.39C102.48,404.08 104.39,406.07 106.31,406.38C108.23,406.69 109.18,405.27 112.06,405.23C114.93,405.19 119.72,405.77 123.55,406.15C127.38,406.53 131.14,407.53 135.05,407.53C138.95,407.53 144.64,406.33 147,406.15C149.36,405.97 148.06,406.96 149.2,406.44C150.33,405.91 152.07,404.52 153.79,402.99C155.52,401.46 157.62,397.05 159.54,397.24C161.46,397.43 162.8,401.84 165.29,404.14C167.78,406.44 171.03,410.27 174.48,411.03C177.93,411.8 182.15,409.5 185.98,408.74C189.81,407.97 193.64,407.09 197.47,406.44C201.3,405.79 205.9,405.4 208.97,404.83C212.03,404.25 214.33,402.84 215.86,402.99C217.39,403.14 216.25,405.44 218.16,405.75C220.08,406.05 225.44,405.67 227.36,404.83C229.27,403.98 228.12,401.57 229.66,400.69C231.19,399.81 233.87,399.54 236.55,399.54C239.23,399.54 243.07,400.31 245.75,400.69C248.43,401.07 251.49,401.65 252.64,401.84" fill="none" stroke="#ee6c3e" stroke-width="1.1" stroke-linejoin="round"/><path clip-path="url(#clip_c2)" d="M29.3,402.24C32.75,402.13 43.48,401.51 49.99,401.55C56.5,401.59 63.02,401.97 68.38,402.47C73.74,402.97 78.34,404.31 82.17,404.54C86,404.77 88.3,404.12 91.37,403.85C94.43,403.58 97.5,402.93 100.56,402.93C103.63,402.93 105.93,403.77 109.76,403.85C113.59,403.93 119.34,403.47 123.55,403.39C127.77,403.31 131.14,403.39 135.05,403.39C138.95,403.39 144.26,403.38 147,403.39C149.74,403.4 149.98,402.83 151.49,403.45C153.01,404.07 154.56,405.86 156.09,407.13C157.62,408.39 159.16,409.89 160.69,411.03C162.22,412.18 163.75,414.67 165.29,414.02C166.82,413.37 167.97,408.77 169.89,407.13C171.8,405.48 174.1,404.83 176.78,404.14C179.46,403.45 182.53,403.3 185.98,402.99C189.43,402.68 193.64,402.49 197.47,402.3C201.3,402.11 206.09,401.8 208.97,401.84C211.84,401.88 213.37,401.57 214.71,402.53C216.05,403.49 215.67,406.67 217.01,407.59C218.35,408.51 221.03,408.12 222.76,408.05C224.48,407.97 226.21,406.82 227.36,407.13C228.51,407.43 228.89,410.77 229.66,409.89C230.42,409 230.04,403.3 231.95,401.84C233.87,400.38 237.7,401.03 241.15,401.15C244.6,401.26 250.73,402.3 252.64,402.53" fill="none" stroke="#f4b030" stroke-width="1.1" stroke-linejoin="round"/><path d="M29.4 384 V441.5 H253.2" fill="none" stroke="#7a7a7a" stroke-width="0.8"/><text x="29.4" y="449.9" text-anchor="middle" font-size="6.5" fill="#444444">0</text><text x="54.27" y="449.9" text-anchor="middle" font-size="6.5" fill="#444444">50</text><text x="79.13" y="449.9" text-anchor="middle" font-size="6.5" fill="#444444">100</text><text x="104" y="449.9" text-anchor="middle" font-size="6.5" fill="#444444">150</text><text x="128.87" y="449.9" text-anchor="middle" font-size="6.5" fill="#444444">200</text><text x="153.73" y="449.9" text-anchor="middle" font-size="6.5" fill="#444444">250</text><text x="178.6" y="449.9" text-anchor="middle" font-size="6.5" fill="#444444">300</text><text x="203.47" y="449.9" text-anchor="middle" font-size="6.5" fill="#444444">350</text><text x="228.33" y="449.9" text-anchor="middle" font-size="6.5" fill="#444444">400</text><text x="253.2" y="449.9" text-anchor="middle" font-size="6.5" fill="#444444">450</text><text x="27.1" y="443.7" text-anchor="end" font-size="6.5" fill="#444444">-40</text><text x="27.1" y="424.53" text-anchor="end" font-size="6.5" fill="#444444">-20</text><text x="27.1" y="405.37" text-anchor="end" font-size="6.5" fill="#444444">0</text><text x="27.1" y="386.2" text-anchor="end" font-size="6.5" fill="#444444">20</text><path d="M29.4 441.5 v-1.6 M54.27 441.5 v-1.6 M79.13 441.5 v-1.6 M104 441.5 v-1.6 M128.87 441.5 v-1.6 M153.73 441.5 v-1.6 M178.6 441.5 v-1.6 M203.47 441.5 v-1.6 M228.33 441.5 v-1.6 M253.2 441.5 v-1.6 M29.4 441.5 h1.6 M29.4 422.33 h1.6 M29.4 403.17 h1.6 M29.4 384 h1.6" stroke="#7a7a7a" stroke-width="0.7"/><text y="458.9" text-anchor="middle" font-size="8" fill="#444444"><tspan x="134.5" font-style="italic" font-size="8.8">t</tspan><tspan x="140.9" font-style="italic">/</tspan><tspan x="146.2">s</tspan></text><text transform="translate(14.3,412.8) rotate(-90)" text-anchor="middle" font-size="8" fill="#444444"><tspan font-style="italic" font-size="6.5">δ </tspan><tspan>V</tspan> / m/s</text><rect x="218.1" y="365.8" width="40.3" height="30.1" fill="#fff" stroke="#7a7a7a" stroke-width="0.9"/><line x1="222" y1="371.4" x2="241.1" y2="371.4" stroke="#2a92d9" stroke-width="1"/><text x="243.2" y="373.4" font-size="6.4" font-style="italic" fill="#383838"><tspan font-size="5.5">δ</tspan> <tspan font-size="7.6">V</tspan><tspan font-size="4.3" dx="1" dy="2.8">E</tspan></text><line x1="222" y1="381" x2="241.1" y2="381" stroke="#ee6c3e" stroke-width="1"/><text x="243.2" y="383" font-size="6.4" font-style="italic" fill="#383838"><tspan font-size="5.5">δ</tspan> <tspan font-size="7.6">V</tspan><tspan font-size="4.3" dx="1" dy="2.8">N</tspan></text><line x1="222" y1="390.3" x2="241.1" y2="390.3" stroke="#f4b030" stroke-width="1"/><text x="243.2" y="392.3" font-size="6.4" font-style="italic" fill="#383838"><tspan font-size="5.5">δ</tspan> <tspan font-size="7.6">V</tspan><tspan font-size="4.3" dx="1" dy="2.8">U</tspan></text></g><g><clipPath id="clip_c3"><rect x="29.4" y="470.1" width="224.3" height="58.3"/></clipPath><path clip-path="url(#clip_c3)" d="M29.3,499.84C31.21,499.88 36.58,499.88 40.79,500.07C45.01,500.26 49.99,500.76 54.59,500.99C59.18,501.22 64.55,501.07 68.38,501.45C72.21,501.83 73.74,503.06 77.57,503.29C81.41,503.52 87.15,503.02 91.37,502.83C95.58,502.64 99.41,502.14 102.86,502.14C106.31,502.14 108.61,502.83 112.06,502.83C115.51,502.83 119.72,502.25 123.55,502.14C127.38,502.02 131.14,501.95 135.05,502.14C138.95,502.33 144.64,503.09 147,503.29C149.36,503.49 148.7,503.19 149.2,503.33C149.7,503.48 149.36,503.94 150,504.14C150.64,504.34 152.17,504.2 153.07,504.52C153.96,504.84 154.73,504.78 155.36,506.05C156,507.33 156.39,511.29 156.9,512.18C157.41,513.08 157.79,511.03 158.43,511.42C159.07,511.8 160.09,514.36 160.73,514.48C161.37,514.61 161.62,512.69 162.26,512.18C162.9,511.67 163.92,512.31 164.56,511.42C165.2,510.52 165.58,507.65 166.09,506.82C166.6,505.99 166.99,507.2 167.62,506.44C168.26,505.67 169.28,502.35 169.92,502.22C170.56,502.09 170.82,504.58 171.46,505.67C172.09,506.76 172.99,507.91 173.75,508.74C174.52,509.57 175.29,510.52 176.05,510.65C176.82,510.78 177.59,509.95 178.35,509.5C179.12,509.05 179.63,508.48 180.65,507.97C181.67,507.46 182.92,506.76 184.48,506.44C186.04,506.12 187.45,506.3 190,506.05C192.55,505.8 195.84,505.28 199.77,504.94C203.7,504.6 208.97,504.21 213.56,504.02C218.16,503.83 222.76,503.91 227.36,503.79C231.95,503.68 236.93,503.22 241.15,503.33C245.36,503.45 250.73,504.29 252.64,504.48" fill="none" stroke="#2a92d9" stroke-width="1.1" stroke-linejoin="round"/><path clip-path="url(#clip_c3)" d="M29.3,499.84C31.21,499.95 36.58,500.34 40.79,500.53C45.01,500.72 49.99,500.91 54.59,500.99C59.18,501.07 64.16,500.99 68.38,500.99C72.59,500.99 76.04,501.26 79.87,500.99C83.7,500.72 87.54,499.57 91.37,499.38C95.2,499.19 99.41,499.88 102.86,499.84C106.31,499.8 108.61,499.72 112.06,499.15C115.51,498.57 119.72,497.04 123.55,496.39C127.38,495.74 131.14,495.7 135.05,495.24C138.95,494.78 144.64,493.93 147,493.63C149.36,493.33 148.7,493.42 149.2,493.45C149.7,493.48 149.23,493.67 150,493.79C150.77,493.91 152.81,493.73 153.83,494.18C154.85,494.62 155.49,495.84 156.13,496.48C156.77,497.11 157.22,497.94 157.66,498.01C158.11,498.07 158.43,497.56 158.81,496.86C159.2,496.16 159.39,494.94 159.96,493.79C160.54,492.64 161.49,490.98 162.26,489.96C163.03,488.94 163.79,488.17 164.56,487.66C165.33,487.15 166.22,487.28 166.86,486.9C167.5,486.51 167.75,485.49 168.39,485.36C169.03,485.24 169.92,485.62 170.69,486.13C171.46,486.64 172.22,487.66 172.99,488.43C173.75,489.2 174.71,490.73 175.29,490.73C175.86,490.73 176.05,489.26 176.44,488.43C176.82,487.6 176.88,486.07 177.59,485.75C178.29,485.43 179.5,486.39 180.65,486.51C181.8,486.64 182.92,486.64 184.48,486.51C186.04,486.39 188.6,485.82 190,485.75C191.4,485.68 190.1,486.11 192.87,486.09C195.65,486.07 202.07,485.56 206.67,485.63C211.26,485.71 216.25,486.4 220.46,486.55C224.67,486.7 228.51,486.63 231.95,486.55C235.4,486.48 237.7,486.17 241.15,486.09C244.6,486.02 250.73,486.09 252.64,486.09" fill="none" stroke="#ee6c3e" stroke-width="1.1" stroke-linejoin="round"/><path clip-path="url(#clip_c3)" d="M29.3,484.9C30.83,485.01 35.05,485.32 38.49,485.59C41.94,485.85 46.16,486.62 49.99,486.51C53.82,486.39 57.65,485.16 61.48,484.9C65.31,484.63 69.15,484.7 72.98,484.9C76.81,485.09 80.64,485.93 84.47,486.05C88.3,486.16 92.13,485.78 95.97,485.59C99.8,485.39 103.63,485.01 107.46,484.9C111.29,484.78 115.12,484.82 118.95,484.9C122.79,484.97 125.77,485.28 130.45,485.36C135.12,485.43 143.74,485.36 147,485.36C150.26,485.36 148.86,485.3 150,485.36C151.14,485.43 153,485.11 153.83,485.75C154.66,486.39 154.53,489.26 154.98,489.2C155.43,489.13 156.07,485.24 156.51,485.36C156.96,485.49 157.22,488.56 157.66,489.96C158.11,491.37 158.56,493.47 159.2,493.79C159.83,494.11 160.73,492.39 161.49,491.88C162.26,491.37 163.15,490.6 163.79,490.73C164.43,490.86 164.81,492.39 165.33,492.64C165.84,492.9 166.35,492.01 166.86,492.26C167.37,492.52 167.75,493.54 168.39,494.18C169.03,494.81 169.92,495.39 170.69,496.09C171.46,496.79 172.35,498.39 172.99,498.39C173.63,498.39 173.88,496.6 174.52,496.09C175.16,495.58 176.05,495.33 176.82,495.33C177.59,495.33 178.1,495.9 179.12,496.09C180.14,496.28 181.14,496.28 182.95,496.48C184.76,496.67 188.73,497.13 190,497.24C191.27,497.35 188.18,496.99 190.57,497.13C192.97,497.26 199.77,497.78 204.37,498.05C208.97,498.31 213.56,498.51 218.16,498.74C222.76,498.97 228.12,499.23 231.95,499.43C235.79,499.62 237.7,499.81 241.15,499.89C244.6,499.96 250.73,499.89 252.64,499.89" fill="none" stroke="#f4b030" stroke-width="1.1" stroke-linejoin="round"/><path d="M29.4 470.6 V528.4 H253.2" fill="none" stroke="#7a7a7a" stroke-width="0.8"/><text x="29.4" y="536.8" text-anchor="middle" font-size="6.5" fill="#444444">0</text><text x="54.27" y="536.8" text-anchor="middle" font-size="6.5" fill="#444444">50</text><text x="79.13" y="536.8" text-anchor="middle" font-size="6.5" fill="#444444">100</text><text x="104" y="536.8" text-anchor="middle" font-size="6.5" fill="#444444">150</text><text x="128.87" y="536.8" text-anchor="middle" font-size="6.5" fill="#444444">200</text><text x="153.73" y="536.8" text-anchor="middle" font-size="6.5" fill="#444444">250</text><text x="178.6" y="536.8" text-anchor="middle" font-size="6.5" fill="#444444">300</text><text x="203.47" y="536.8" text-anchor="middle" font-size="6.5" fill="#444444">350</text><text x="228.33" y="536.8" text-anchor="middle" font-size="6.5" fill="#444444">400</text><text x="253.2" y="536.8" text-anchor="middle" font-size="6.5" fill="#444444">450</text><text x="27.1" y="530.6" text-anchor="end" font-size="6.5" fill="#444444">-100</text><text x="27.1" y="516.15" text-anchor="end" font-size="6.5" fill="#444444">-50</text><text x="27.1" y="501.7" text-anchor="end" font-size="6.5" fill="#444444">0</text><text x="27.1" y="487.25" text-anchor="end" font-size="6.5" fill="#444444">50</text><text x="27.1" y="472.8" text-anchor="end" font-size="6.5" fill="#444444">100</text><path d="M29.4 528.4 v-1.6 M54.27 528.4 v-1.6 M79.13 528.4 v-1.6 M104 528.4 v-1.6 M128.87 528.4 v-1.6 M153.73 528.4 v-1.6 M178.6 528.4 v-1.6 M203.47 528.4 v-1.6 M228.33 528.4 v-1.6 M253.2 528.4 v-1.6 M29.4 528.4 h1.6 M29.4 513.95 h1.6 M29.4 499.5 h1.6 M29.4 485.05 h1.6 M29.4 470.6 h1.6" stroke="#7a7a7a" stroke-width="0.7"/><text y="545.8" text-anchor="middle" font-size="8" fill="#444444"><tspan x="134.5" font-style="italic" font-size="8.8">t</tspan><tspan x="140.9" font-style="italic">/</tspan><tspan x="146.2">s</tspan></text><text transform="translate(8.84,498.6) rotate(-90)" text-anchor="middle" font-size="8.5" fill="#444444"><tspan font-style="italic"><tspan font-size="7">ϕ</tspan>  /  <tspan font-weight="bold">ı</tspan></tspan></text><rect x="218.8" y="455.2" width="42.9" height="31.1" fill="#fff" stroke="#7a7a7a" stroke-width="0.9"/><line x1="223.9" y1="461" x2="247.7" y2="461" stroke="#2a92d9" stroke-width="1"/><text x="249.9" y="463" font-size="6.4" font-style="italic" fill="#383838">ϕ<tspan font-size="4" dy="2">E</tspan></text><line x1="223.9" y1="470.6" x2="247.7" y2="470.6" stroke="#ee6c3e" stroke-width="1"/><text x="249.9" y="472.6" font-size="6.4" font-style="italic" fill="#383838">ϕ<tspan font-size="4" dy="2">N</tspan></text><line x1="223.9" y1="480" x2="247.7" y2="480" stroke="#f4b030" stroke-width="1"/><text x="249.9" y="482" font-size="6.4" font-style="italic" fill="#383838">ϕ<tspan font-size="4" dy="2">U</tspan></text></g><g><clipPath id="clip_b1"><rect x="290.1" y="21" width="223.6" height="58.4"/></clipPath><path clip-path="url(#clip_b1)" d="M290.3,35.24C290.87,35.62 292.6,36.68 293.75,37.54C294.9,38.4 296.05,39.55 297.2,40.41C298.34,41.28 299.49,42.33 300.64,42.71C301.79,43.1 302.94,43 304.09,42.71C305.24,42.43 306.39,41.37 307.54,40.99C308.69,40.61 309.84,40.13 310.99,40.41C312.14,40.7 313.29,42.04 314.44,42.71C315.59,43.38 316.74,43.77 317.89,44.44C319.03,45.11 320.18,46.26 321.33,46.74C322.48,47.21 323.63,47.5 324.78,47.31C325.93,47.12 327.08,46.26 328.23,45.59C329.38,44.92 330.53,44.05 331.68,43.29C332.83,42.52 333.98,41.08 335.13,40.99C336.28,40.89 337.62,42.23 338.57,42.71C339.53,43.19 339.92,43.77 340.87,43.86C341.83,43.96 343.13,43.1 344.32,43.29C345.51,43.48 347.31,45.11 348,45.01C348.69,44.92 347.61,43.86 348.45,42.71C349.29,41.56 351.7,38.4 353.05,38.11C354.39,37.83 355.54,39.84 356.49,40.99C357.45,42.14 358.03,44.82 358.79,45.01C359.56,45.2 360.13,42.9 361.09,42.14C362.05,41.37 363.39,41.75 364.54,40.41C365.69,39.07 366.84,35.72 367.99,34.09C369.14,32.46 370.38,31.03 371.44,30.64C372.49,30.26 373.54,30.84 374.31,31.79C375.08,32.75 375.36,35.05 376.03,36.39C376.7,37.73 377.38,39.74 378.33,39.84C379.29,39.93 380.63,37.92 381.78,36.97C382.93,36.01 384.27,34.19 385.23,34.09C386.19,34 386.76,35.24 387.53,36.39C388.3,37.54 389.06,40.03 389.83,40.99C390.59,41.95 391.17,42.9 392.13,42.14C393.08,41.37 394.62,37.54 395.57,36.39C396.53,35.24 397.11,34.86 397.87,35.24C398.64,35.62 398.98,37.73 400.17,38.69C401.36,39.65 403.69,40.61 405,40.99C406.31,41.37 406.96,41.95 408.05,40.99C409.13,40.03 410.54,36.97 411.49,35.24C412.45,33.52 413.03,31.22 413.79,30.64C414.56,30.07 415.33,30.07 416.09,31.79C416.86,33.52 417.43,39.93 418.39,40.99C419.35,42.04 420.88,38.79 421.84,38.11C422.8,37.44 423.37,36.49 424.14,36.97C424.9,37.44 425.48,40.22 426.44,40.99C427.39,41.75 428.74,41.08 429.89,41.56C431.03,42.04 432.18,43.77 433.33,43.86C434.48,43.96 435.63,43.1 436.78,42.14C437.93,41.18 439.08,39.36 440.23,38.11C441.38,36.87 442.34,35.53 443.68,34.67C445.02,33.8 447.13,33.42 448.28,32.94C449.43,32.46 449.62,31.41 450.57,31.79C451.53,32.18 452.87,35.24 454.02,35.24C455.17,35.24 456.48,31.6 457.47,31.79C458.47,31.98 459.07,35.15 460,36.39C460.93,37.64 461.77,38.88 463.05,39.26C464.32,39.65 466.11,38.79 467.64,38.69C469.18,38.59 470.71,38.31 472.24,38.69C473.77,39.07 475.5,40.03 476.84,40.99C478.18,41.95 479.14,43.19 480.29,44.44C481.44,45.68 482.59,47.79 483.74,48.46C484.89,49.13 486.23,49.23 487.18,48.46C488.14,47.69 488.91,43.77 489.48,43.86C490.06,43.96 490.06,47.5 490.63,49.03C491.21,50.57 491.97,52.87 492.93,53.06C493.89,53.25 495.23,51.72 496.38,50.18C497.53,48.65 498.87,45.01 499.83,43.86C500.79,42.71 501.36,43 502.13,43.29C502.89,43.57 503.66,44.72 504.43,45.59C505.19,46.45 505.96,47.79 506.72,48.46C507.49,49.13 508.07,49.7 509.02,49.61C509.98,49.51 511.9,48.17 512.47,47.89" fill="none" stroke="#2a92d9" stroke-width="1.1" stroke-linejoin="round"/><path clip-path="url(#clip_b1)" d="M290.3,35.24C290.87,35.72 292.6,36.97 293.75,38.11C294.9,39.26 296.24,40.89 297.2,42.14C298.15,43.38 298.54,45.2 299.49,45.59C300.45,45.97 301.79,45.2 302.94,44.44C304.09,43.67 305.24,42.14 306.39,40.99C307.54,39.84 308.69,38.4 309.84,37.54C310.99,36.68 312.23,36.1 313.29,35.82C314.34,35.53 315.39,34.95 316.16,35.82C316.93,36.68 317.02,39.74 317.89,40.99C318.75,42.23 320.18,43.19 321.33,43.29C322.48,43.38 323.63,41.66 324.78,41.56C325.93,41.47 327.27,42.14 328.23,42.71C329.19,43.29 329.57,44.92 330.53,45.01C331.49,45.11 332.83,44.05 333.98,43.29C335.13,42.52 336.28,40.32 337.43,40.41C338.57,40.51 339.72,43.77 340.87,43.86C342.02,43.96 343.56,41.95 344.32,40.99C345.09,40.03 344.86,38.5 345.47,38.11C346.08,37.73 347.31,38.88 348,38.69C348.69,38.5 348.57,37.44 349.6,36.97C350.63,36.49 352.66,36.49 354.2,35.82C355.73,35.15 357.45,32.85 358.79,32.94C360.13,33.04 361.19,34.28 362.24,36.39C363.3,38.5 364.16,44.25 365.11,45.59C366.07,46.93 366.93,44.92 367.99,44.44C369.04,43.96 370.29,43.77 371.44,42.71C372.59,41.66 373.74,39.36 374.89,38.11C376.03,36.87 376.99,35.53 378.33,35.24C379.67,34.95 381.59,36.39 382.93,36.39C384.27,36.39 385.04,35.15 386.38,35.24C387.72,35.34 389.44,36.39 390.98,36.97C392.51,37.54 394.43,38.02 395.57,38.69C396.72,39.36 397.11,39.46 397.87,40.99C398.64,42.52 399.41,46.54 400.17,47.89C400.94,49.23 401.67,49.13 402.47,49.03C403.28,48.94 404.26,48.08 405,47.31C405.74,46.54 406.01,45.39 406.9,44.44C407.79,43.48 409.2,42.71 410.34,41.56C411.49,40.41 412.84,38.5 413.79,37.54C414.75,36.58 415.33,35.43 416.09,35.82C416.86,36.2 417.24,37.83 418.39,39.84C419.54,41.85 421.46,47.6 422.99,47.89C424.52,48.17 426.05,43.67 427.59,41.56C429.12,39.46 430.65,36.01 432.18,35.24C433.72,34.48 435.44,36.39 436.78,36.97C438.12,37.54 439.08,39.74 440.23,38.69C441.38,37.64 442.53,32.94 443.68,30.64C444.83,28.34 446.17,25.28 447.13,24.9C448.08,24.51 448.66,26.62 449.43,28.34C450.19,30.07 450.77,33.71 451.72,35.24C452.68,36.77 453.79,36.77 455.17,37.54C456.55,38.31 458.5,39.55 460,39.84C461.5,40.13 462.92,39.26 464.2,39.26C465.47,39.26 466.69,39.17 467.64,39.84C468.6,40.51 468.98,42.33 469.94,43.29C470.9,44.25 472.05,45.11 473.39,45.59C474.73,46.07 476.65,45.87 477.99,46.16C479.33,46.45 480.29,46.83 481.44,47.31C482.59,47.79 483.93,49.8 484.89,49.03C485.84,48.27 486.61,44.63 487.18,42.71C487.76,40.8 487.95,37.25 488.33,37.54C488.72,37.83 488.91,44.44 489.48,44.44C490.06,44.44 490.82,38.98 491.78,37.54C492.74,36.1 494.08,36.39 495.23,35.82C496.38,35.24 497.53,34.38 498.68,34.09C499.83,33.8 501.17,34.28 502.13,34.09C503.08,33.9 503.66,31.79 504.43,32.94C505.19,34.09 505.96,39.26 506.72,40.99C507.49,42.71 508.07,43.67 509.02,43.29C509.98,42.9 511.61,40.22 512.47,38.69C513.33,37.16 513.91,34.86 514.2,34.09" fill="none" stroke="#ee6c3e" stroke-width="1.1" stroke-linejoin="round"/><path clip-path="url(#clip_b1)" d="M290.3,39.84C290.68,41.37 291.93,46.26 292.6,49.03C293.27,51.81 293.75,56.7 294.32,56.51C294.9,56.31 295.47,49.32 296.05,47.89C296.62,46.45 297.2,46.74 297.77,47.89C298.34,49.03 298.92,53.34 299.49,54.78C300.07,56.22 300.45,56.7 301.22,56.51C301.98,56.31 303.23,55.26 304.09,53.63C304.95,52 305.62,48.08 306.39,46.74C307.16,45.39 307.73,45.59 308.69,45.59C309.65,45.59 310.99,47.12 312.14,46.74C313.29,46.35 314.72,45.78 315.59,43.29C316.45,40.8 316.74,32.94 317.31,31.79C317.89,30.64 318.36,34.67 319.03,36.39C319.7,38.11 320.38,40.61 321.33,42.14C322.29,43.67 323.63,45.2 324.78,45.59C325.93,45.97 327.18,45.49 328.23,44.44C329.28,43.38 330.34,40.51 331.1,39.26C331.87,38.02 332.16,37.25 332.83,36.97C333.5,36.68 334.36,36.49 335.13,37.54C335.89,38.59 336.47,41.75 337.43,43.29C338.38,44.82 339.92,45.87 340.87,46.74C341.83,47.6 342.5,49.23 343.17,48.46C343.84,47.69 344.32,43.38 344.9,42.14C345.47,40.89 346.1,41.37 346.62,40.99C347.14,40.61 347.7,39.07 348,39.84C348.3,40.61 347.8,44.44 348.45,45.59C349.1,46.74 350.75,47.5 351.9,46.74C353.05,45.97 354.29,41.66 355.34,40.99C356.4,40.32 357.45,45.01 358.22,42.71C358.98,40.41 359.37,30.55 359.94,27.2C360.52,23.84 361.09,22.41 361.67,22.6C362.24,22.79 362.82,25.28 363.39,28.34C363.97,31.41 364.35,38.69 365.11,40.99C365.88,43.29 366.74,41.75 367.99,42.14C369.23,42.52 371.44,42.71 372.59,43.29C373.74,43.86 374.12,45.97 374.89,45.59C375.65,45.2 376.61,40.22 377.18,40.99C377.76,41.75 377.57,48.08 378.33,50.18C379.1,52.29 380.63,53.63 381.78,53.63C382.93,53.63 384.27,49.8 385.23,50.18C386.19,50.57 386.95,54.59 387.53,55.93C388.1,57.27 387.91,58.23 388.68,58.23C389.44,58.23 390.98,57.66 392.13,55.93C393.28,54.21 394.62,49.8 395.57,47.89C396.53,45.97 397.3,46.93 397.87,44.44C398.45,41.95 398.64,33.9 399.02,32.94C399.41,31.98 399.6,37.73 400.17,38.69C400.75,39.65 401.67,38.59 402.47,38.69C403.28,38.79 404.07,39.84 405,39.26C405.93,38.69 407.16,36.3 408.05,35.24C408.94,34.19 409.39,31.98 410.34,32.94C411.3,33.9 412.64,40.61 413.79,40.99C414.94,41.37 416.38,37.35 417.24,35.24C418.1,33.13 418.2,28.92 418.97,28.34C419.73,27.77 420.98,30.84 421.84,31.79C422.7,32.75 423.37,31.98 424.14,34.09C424.9,36.2 425.48,43.1 426.44,44.44C427.39,45.78 428.93,43.48 429.89,42.14C430.84,40.8 431.61,39.46 432.18,36.39C432.76,33.33 432.57,25.95 433.33,23.75C434.1,21.54 435.82,22.6 436.78,23.17C437.74,23.75 438.6,24.7 439.08,27.2C439.56,29.69 439.08,35.05 439.66,38.11C440.23,41.18 441.48,44.15 442.53,45.59C443.58,47.02 445.02,47.12 445.98,46.74C446.93,46.35 447.7,45.97 448.28,43.29C448.85,40.61 448.85,32.75 449.43,30.64C450,28.54 450.96,29.49 451.72,30.64C452.49,31.79 453.26,33.52 454.02,37.54C454.79,41.56 455.33,52.1 456.32,54.78C457.32,57.46 459.07,53.63 460,53.63C460.93,53.63 461.01,53.82 461.9,54.78C462.79,55.74 464.58,58.33 465.34,59.38C466.11,60.43 465.92,62.25 466.49,61.1C467.07,59.95 467.64,54.69 468.79,52.48C469.94,50.28 472.05,47.89 473.39,47.89C474.73,47.89 476.07,51.24 476.84,52.48C477.61,53.73 477.03,54.88 477.99,55.36C478.95,55.84 481.44,57.37 482.59,55.36C483.74,53.34 484.12,44.92 484.89,43.29C485.65,41.66 486.42,45.78 487.18,45.59C487.95,45.39 488.72,43.38 489.48,42.14C490.25,40.89 490.82,39.26 491.78,38.11C492.74,36.97 494.08,35.72 495.23,35.24C496.38,34.76 497.72,35.34 498.68,35.24C499.64,35.15 500.21,34.76 500.98,34.67C501.74,34.57 502.51,34 503.28,34.67C504.04,35.34 505,37.25 505.57,38.69C506.15,40.13 506.15,41.95 506.72,43.29C507.3,44.63 508.07,45.87 509.02,46.74C509.98,47.6 511.9,48.17 512.47,48.46" fill="none" stroke="#f4b030" stroke-width="1.1" stroke-linejoin="round"/><path d="M290.1 21.5 V79.4 H513.2" fill="none" stroke="#7a7a7a" stroke-width="0.8"/><text x="290.1" y="87.8" text-anchor="middle" font-size="6.5" fill="#444444">0</text><text x="314.89" y="87.8" text-anchor="middle" font-size="6.5" fill="#444444">50</text><text x="339.68" y="87.8" text-anchor="middle" font-size="6.5" fill="#444444">100</text><text x="364.47" y="87.8" text-anchor="middle" font-size="6.5" fill="#444444">150</text><text x="389.26" y="87.8" text-anchor="middle" font-size="6.5" fill="#444444">200</text><text x="414.04" y="87.8" text-anchor="middle" font-size="6.5" fill="#444444">250</text><text x="438.83" y="87.8" text-anchor="middle" font-size="6.5" fill="#444444">300</text><text x="463.62" y="87.8" text-anchor="middle" font-size="6.5" fill="#444444">350</text><text x="488.41" y="87.8" text-anchor="middle" font-size="6.5" fill="#444444">400</text><text x="513.2" y="87.8" text-anchor="middle" font-size="6.5" fill="#444444">450</text><text x="287.8" y="81.6" text-anchor="end" font-size="6.5" fill="#444444">-20</text><text x="287.8" y="62.3" text-anchor="end" font-size="6.5" fill="#444444">-10</text><text x="287.8" y="43" text-anchor="end" font-size="6.5" fill="#444444">0</text><text x="287.8" y="23.7" text-anchor="end" font-size="6.5" fill="#444444">10</text><path d="M290.1 79.4 v-1.6 M314.89 79.4 v-1.6 M339.68 79.4 v-1.6 M364.47 79.4 v-1.6 M389.26 79.4 v-1.6 M414.04 79.4 v-1.6 M438.83 79.4 v-1.6 M463.62 79.4 v-1.6 M488.41 79.4 v-1.6 M513.2 79.4 v-1.6 M290.1 79.4 h1.6 M290.1 60.1 h1.6 M290.1 40.8 h1.6 M290.1 21.5 h1.6" stroke="#7a7a7a" stroke-width="0.7"/><text y="96.8" text-anchor="middle" font-size="8" fill="#444444"><tspan x="394.85" font-style="italic" font-size="8.8">t</tspan><tspan x="401.25" font-style="italic">/</tspan><tspan x="406.55">s</tspan></text><text transform="translate(275,50.7) rotate(-90)" text-anchor="middle" font-size="8" fill="#444444"><tspan font-style="italic" font-size="6.5">δ </tspan><tspan font-style="italic">P</tspan> / m</text><rect x="475.4" y="7.2" width="36.7" height="26.3" fill="#fff" stroke="#7a7a7a" stroke-width="0.9"/><line x1="479.1" y1="12.3" x2="499" y2="12.3" stroke="#2a92d9" stroke-width="1"/><text x="501.3" y="14.7" font-size="6.4" font-style="italic" fill="#383838">δ <tspan font-style="italic">L</tspan></text><line x1="479.1" y1="20.5" x2="499" y2="20.5" stroke="#ee6c3e" stroke-width="1"/><text x="501.3" y="22.9" font-size="6.4" font-style="italic" fill="#383838">δ λ</text><line x1="479.1" y1="28.2" x2="499" y2="28.2" stroke="#f4b030" stroke-width="1"/><text x="501.3" y="30.6" font-size="6.4" font-style="italic" fill="#383838">δ <tspan font-style="italic">H</tspan></text></g><g><clipPath id="clip_b2"><rect x="290.1" y="108.1" width="223.6" height="58.5"/></clipPath><path clip-path="url(#clip_b2)" d="M290.3,136.44C290.59,137.2 291.45,140.84 292.02,141.03C292.6,141.23 293.08,137.97 293.75,137.59C294.42,137.2 295.28,138.83 296.05,138.74C296.81,138.64 297.77,136.63 298.34,137.01C298.92,137.39 299.11,141.13 299.49,141.03C299.88,140.94 300.07,137.3 300.64,136.44C301.22,135.57 302.18,135.48 302.94,135.86C303.71,136.25 304.48,138.83 305.24,138.74C306.01,138.64 306.77,136.25 307.54,135.29C308.31,134.33 309.07,132.99 309.84,132.99C310.61,132.99 311.18,135.1 312.14,135.29C313.1,135.48 314.63,133.95 315.59,134.14C316.54,134.33 316.93,135.67 317.89,136.44C318.84,137.2 320.18,139.02 321.33,138.74C322.48,138.45 323.82,135.48 324.78,134.71C325.74,133.95 326.31,133.66 327.08,134.14C327.85,134.62 328.61,136.63 329.38,137.59C330.15,138.54 330.91,139.12 331.68,139.89C332.44,140.65 333.21,141.99 333.98,142.18C334.74,142.38 335.51,141.03 336.28,141.03C337.04,141.03 337.81,143.05 338.57,142.18C339.34,141.32 340.11,136.92 340.87,135.86C341.64,134.81 342.41,135.19 343.17,135.86C343.94,136.53 344.67,140.17 345.47,139.89C346.28,139.6 347.22,135.67 348,134.14C348.78,132.61 349.33,130.88 350.17,130.69C351.01,130.5 352.18,132.03 353.05,132.99C353.91,133.95 354.39,135.96 355.34,136.44C356.3,136.92 357.84,135.67 358.79,135.86C359.75,136.05 360.13,137.39 361.09,137.59C362.05,137.78 363.39,137.39 364.54,137.01C365.69,136.63 366.84,135.86 367.99,135.29C369.14,134.71 370.29,133.56 371.44,133.56C372.59,133.56 373.74,134.71 374.89,135.29C376.03,135.86 377.18,136.63 378.33,137.01C379.48,137.39 380.63,137.68 381.78,137.59C382.93,137.49 384.08,136.72 385.23,136.44C386.38,136.15 387.53,135.67 388.68,135.86C389.83,136.05 390.98,138.26 392.13,137.59C393.28,136.92 394.62,132.03 395.57,131.84C396.53,131.65 397.11,135.29 397.87,136.44C398.64,137.59 399.41,139.02 400.17,138.74C400.94,138.45 401.67,135.19 402.47,134.71C403.28,134.23 404.26,135.67 405,135.86C405.74,136.05 406.01,136.34 406.9,135.86C407.79,135.38 409.2,133.95 410.34,132.99C411.49,132.03 412.93,129.54 413.79,130.11C414.66,130.69 415.04,133.85 415.52,136.44C416,139.02 416.19,145.44 416.67,145.63C417.15,145.82 417.82,137.97 418.39,137.59C418.97,137.2 419.54,143.05 420.11,143.33C420.69,143.62 421.17,140.36 421.84,139.31C422.51,138.26 423.18,137.59 424.14,137.01C425.1,136.44 426.44,136.05 427.59,135.86C428.74,135.67 429.89,135.96 431.03,135.86C432.18,135.77 433.33,135.1 434.48,135.29C435.63,135.48 436.88,138.54 437.93,137.01C438.98,135.48 440.04,127.53 440.8,126.09C441.57,124.66 441.86,126.67 442.53,128.39C443.2,130.11 444.06,134.33 444.83,136.44C445.59,138.54 446.36,141.23 447.13,141.03C447.89,140.84 448.66,135.86 449.43,135.29C450.19,134.71 450.96,136.63 451.72,137.59C452.49,138.54 453.07,140.84 454.02,141.03C454.98,141.23 456.48,139.69 457.47,138.74C458.47,137.78 459.26,135.29 460,135.29C460.74,135.29 461.01,138.35 461.9,138.74C462.79,139.12 464.2,137.97 465.34,137.59C466.49,137.2 467.64,136.44 468.79,136.44C469.94,136.44 471.09,137.2 472.24,137.59C473.39,137.97 475.02,137.78 475.69,138.74C476.36,139.69 475.88,143.72 476.26,143.33C476.65,142.95 477.32,137.97 477.99,136.44C478.66,134.9 479.52,133.95 480.29,134.14C481.05,134.33 481.82,137.39 482.59,137.59C483.35,137.78 484.12,135.77 484.89,135.29C485.65,134.81 486.61,134.76 487.18,134.71C487.75,134.66 488.01,139.79 488.3,135C488.59,130.21 488.67,102.08 488.9,106C489.13,109.92 489.45,158.5 489.7,158.5C489.95,158.5 490.18,109.83 490.4,106C490.62,102.17 490.77,130.62 491,135.5C491.23,140.38 491.27,134.94 491.78,135.29C492.3,135.64 493.12,137.01 494.08,137.59C495.04,138.16 496.38,139.12 497.53,138.74C498.68,138.35 500.02,135.48 500.98,135.29C501.93,135.1 502.51,136.72 503.28,137.59C504.04,138.45 505.1,139.31 505.57,140.46C506.05,141.61 505.77,144.77 506.15,144.48C506.53,144.2 507.2,140.08 507.87,138.74C508.54,137.39 509.31,137.11 510.17,136.44C511.03,135.77 512.57,135 513.05,134.71" fill="none" stroke="#2a92d9" stroke-width="1.1" stroke-linejoin="round"/><path clip-path="url(#clip_b2)" d="M290.3,142.18C290.59,141.42 291.26,138.26 292.02,137.59C292.79,136.92 294.03,138.35 294.9,138.16C295.76,137.97 296.43,136.92 297.2,136.44C297.96,135.96 298.73,135.67 299.49,135.29C300.26,134.9 300.84,134.33 301.79,134.14C302.75,133.95 304.09,134.33 305.24,134.14C306.39,133.95 307.73,132.8 308.69,132.99C309.65,133.18 310.03,134.52 310.99,135.29C311.95,136.05 313.29,137.3 314.44,137.59C315.59,137.87 316.74,136.63 317.89,137.01C319.03,137.39 320.18,140.17 321.33,139.89C322.48,139.6 323.63,136.53 324.78,135.29C325.93,134.04 327.27,132.41 328.23,132.41C329.19,132.41 329.76,134.14 330.53,135.29C331.3,136.44 331.87,138.45 332.83,139.31C333.79,140.17 335.32,140.08 336.28,140.46C337.23,140.84 337.81,142.38 338.57,141.61C339.34,140.84 340.11,136.72 340.87,135.86C341.64,135 342.41,135.57 343.17,136.44C343.94,137.3 344.67,140.94 345.47,141.03C346.28,141.13 347.5,138.07 348,137.01C348.5,135.96 347.8,134.81 348.45,134.71C349.1,134.62 350.75,135.19 351.9,136.44C353.05,137.68 354.29,140.84 355.34,142.18C356.4,143.52 357.45,145.06 358.22,144.48C358.98,143.91 359.08,140.27 359.94,138.74C360.8,137.2 362.34,137.01 363.39,135.29C364.44,133.56 365.31,129.25 366.26,128.39C367.22,127.53 368.08,129.25 369.14,130.11C370.19,130.98 371.44,132.89 372.59,133.56C373.74,134.23 375.17,133.28 376.03,134.14C376.9,135 377.18,138.16 377.76,138.74C378.33,139.31 378.81,138.74 379.48,137.59C380.15,136.44 381.02,133.66 381.78,131.84C382.55,130.02 383.31,126.95 384.08,126.67C384.85,126.38 385.61,128.97 386.38,130.11C387.15,131.26 387.72,132.22 388.68,133.56C389.64,134.9 390.98,138.83 392.13,138.16C393.28,137.49 394.43,130.11 395.57,129.54C396.72,128.97 397.87,133.85 399.02,134.71C400.17,135.57 401.48,133.85 402.47,134.71C403.47,135.57 404.45,139.41 405,139.89C405.55,140.36 405.05,138.54 405.75,137.59C406.45,136.63 408.24,135.29 409.2,134.14C410.15,132.99 410.73,130.88 411.49,130.69C412.26,130.5 413.12,133.18 413.79,132.99C414.46,132.8 414.94,130.98 415.52,129.54C416.09,128.1 416.76,123.6 417.24,124.37C417.72,125.13 418.01,131.36 418.39,134.14C418.77,136.92 418.97,141.7 419.54,141.03C420.11,140.36 421.07,131.84 421.84,130.11C422.61,128.39 423.37,128.87 424.14,130.69C424.9,132.51 425.48,138.93 426.44,141.03C427.39,143.14 428.93,143.52 429.89,143.33C430.84,143.14 431.42,141.23 432.18,139.89C432.95,138.54 433.52,135.96 434.48,135.29C435.44,134.62 436.78,135.1 437.93,135.86C439.08,136.63 440.42,138.35 441.38,139.89C442.34,141.42 442.91,144.48 443.68,145.06C444.44,145.63 445.21,144.77 445.98,143.33C446.74,141.9 447.32,137.39 448.28,136.44C449.23,135.48 450.77,138.16 451.72,137.59C452.68,137.01 453.07,133.47 454.02,132.99C454.98,132.51 456.48,134.52 457.47,134.71C458.47,134.9 459.26,134.14 460,134.14C460.74,134.14 461.01,134.14 461.9,134.71C462.79,135.29 464.39,137.39 465.34,137.59C466.3,137.78 466.69,136.53 467.64,135.86C468.6,135.19 470.13,133.08 471.09,133.56C472.05,134.04 472.62,138.07 473.39,138.74C474.16,139.41 474.92,138.16 475.69,137.59C476.46,137.01 477.03,135.77 477.99,135.29C478.95,134.81 480.29,133.95 481.44,134.71C482.59,135.48 483.86,139.5 484.89,139.89C485.91,140.27 487.06,142.65 487.6,137C488.14,131.35 487.77,101.07 488.1,106C488.43,110.93 489.12,166.6 489.6,166.6C490.08,166.6 490.67,111.6 491,106C491.33,100.4 491.47,128.5 491.6,133C491.73,137.5 491.37,131.84 491.78,132.99C492.2,134.14 493.31,138.16 494.08,139.89C494.85,141.61 495.61,143.52 496.38,143.33C497.15,143.14 497.91,139.89 498.68,138.74C499.44,137.59 500.21,137.2 500.98,136.44C501.74,135.67 502.51,133.75 503.28,134.14C504.04,134.52 504.9,137.68 505.57,138.74C506.25,139.79 506.72,140.84 507.3,140.46C507.87,140.08 508.07,136.92 509.02,136.44C509.98,135.96 512.38,137.39 513.05,137.59" fill="none" stroke="#ee6c3e" stroke-width="1.1" stroke-linejoin="round"/><path clip-path="url(#clip_b2)" d="M290.3,138.74C290.68,139.41 291.83,142.95 292.6,142.76C293.36,142.57 294.13,138.74 294.9,137.59C295.66,136.44 296.24,135.77 297.2,135.86C298.15,135.96 299.49,138.07 300.64,138.16C301.79,138.26 302.94,136.15 304.09,136.44C305.24,136.72 306.39,139.12 307.54,139.89C308.69,140.65 309.84,141.32 310.99,141.03C312.14,140.75 313.29,138.74 314.44,138.16C315.59,137.59 316.74,137.01 317.89,137.59C319.03,138.16 320.38,140.84 321.33,141.61C322.29,142.38 322.67,142.28 323.63,142.18C324.59,142.09 325.93,141.8 327.08,141.03C328.23,140.27 329.38,138.35 330.53,137.59C331.68,136.82 333.02,136.25 333.98,136.44C334.93,136.63 335.51,137.59 336.28,138.74C337.04,139.89 337.62,143.52 338.57,143.33C339.53,143.14 341.07,137.39 342.02,137.59C342.98,137.78 343.33,143.72 344.32,144.48C345.32,145.25 347.31,142.76 348,142.18C348.69,141.61 347.8,141.61 348.45,141.03C349.1,140.46 350.75,139.41 351.9,138.74C353.05,138.07 354.2,137.11 355.34,137.01C356.49,136.92 357.64,137.59 358.79,138.16C359.94,138.74 361.09,139.89 362.24,140.46C363.39,141.03 364.54,142.09 365.69,141.61C366.84,141.13 367.8,137.11 369.14,137.59C370.48,138.07 372.59,144.67 373.74,144.48C374.89,144.29 375.36,134.52 376.03,136.44C376.7,138.35 377.28,155.79 377.76,155.98C378.24,156.17 378.24,141.99 378.91,137.59C379.58,133.18 381.02,131.74 381.78,129.54C382.55,127.34 382.93,124.27 383.51,124.37C384.08,124.46 384.37,128.3 385.23,130.11C386.09,131.93 387.34,134.14 388.68,135.29C390.02,136.44 391.74,137.39 393.28,137.01C394.81,136.63 396.53,132.89 397.87,132.99C399.21,133.08 400.13,136.82 401.32,137.59C402.51,138.35 404.07,137.49 405,137.59C405.93,137.68 406.01,138.45 406.9,138.16C407.79,137.87 409.2,136.34 410.34,135.86C411.49,135.38 412.84,135.19 413.79,135.29C414.75,135.38 415.33,135.86 416.09,136.44C416.86,137.01 417.62,138.74 418.39,138.74C419.16,138.74 419.92,136.53 420.69,136.44C421.46,136.34 422.03,138.74 422.99,138.16C423.95,137.59 425.29,133.56 426.44,132.99C427.59,132.41 428.74,134.04 429.89,134.71C431.03,135.38 432.18,137.3 433.33,137.01C434.48,136.72 435.63,133.28 436.78,132.99C437.93,132.7 439.27,133.37 440.23,135.29C441.19,137.2 441.76,142.85 442.53,144.48C443.3,146.11 444.06,145.25 444.83,145.06C445.59,144.87 446.36,144.39 447.13,143.33C447.89,142.28 448.75,138.54 449.43,138.74C450.1,138.93 450.38,145.15 451.15,144.48C451.92,143.81 452.97,135.67 454.02,134.71C455.08,133.75 456.48,138.26 457.47,138.74C458.47,139.21 459.26,137.2 460,137.59C460.74,137.97 461.01,139.89 461.9,141.03C462.79,142.18 464.39,144.1 465.34,144.48C466.3,144.87 466.69,144.2 467.64,143.33C468.6,142.47 469.75,140.46 471.09,139.31C472.43,138.16 474.35,136.72 475.69,136.44C477.03,136.15 477.8,137.39 479.14,137.59C480.48,137.78 482.2,137.68 483.74,137.59C485.27,137.49 486.99,137.59 488.33,137.01C489.67,136.44 490.44,135.1 491.78,134.14C493.12,133.18 495.23,131.93 496.38,131.26C497.53,130.59 497.53,130.11 498.68,130.11C499.83,130.11 501.93,130.59 503.28,131.26C504.62,131.93 505.57,133.18 506.72,134.14C507.87,135.1 509.12,136.63 510.17,137.01C511.23,137.39 512.57,136.53 513.05,136.44" fill="none" stroke="#f4b030" stroke-width="1.1" stroke-linejoin="round"/><path d="M290.1 108.6 V166.6 H513.2" fill="none" stroke="#7a7a7a" stroke-width="0.8"/><text x="290.1" y="175" text-anchor="middle" font-size="6.5" fill="#444444">0</text><text x="314.89" y="175" text-anchor="middle" font-size="6.5" fill="#444444">50</text><text x="339.68" y="175" text-anchor="middle" font-size="6.5" fill="#444444">100</text><text x="364.47" y="175" text-anchor="middle" font-size="6.5" fill="#444444">150</text><text x="389.26" y="175" text-anchor="middle" font-size="6.5" fill="#444444">200</text><text x="414.04" y="175" text-anchor="middle" font-size="6.5" fill="#444444">250</text><text x="438.83" y="175" text-anchor="middle" font-size="6.5" fill="#444444">300</text><text x="463.62" y="175" text-anchor="middle" font-size="6.5" fill="#444444">350</text><text x="488.41" y="175" text-anchor="middle" font-size="6.5" fill="#444444">400</text><text x="513.2" y="175" text-anchor="middle" font-size="6.5" fill="#444444">450</text><text x="287.8" y="168.8" text-anchor="end" font-size="6.5" fill="#444444">-2</text><text x="287.8" y="154.3" text-anchor="end" font-size="6.5" fill="#444444">-1</text><text x="287.8" y="139.8" text-anchor="end" font-size="6.5" fill="#444444">0</text><text x="287.8" y="125.3" text-anchor="end" font-size="6.5" fill="#444444">1</text><text x="287.8" y="110.8" text-anchor="end" font-size="6.5" fill="#444444">2</text><path d="M290.1 166.6 v-1.6 M314.89 166.6 v-1.6 M339.68 166.6 v-1.6 M364.47 166.6 v-1.6 M389.26 166.6 v-1.6 M414.04 166.6 v-1.6 M438.83 166.6 v-1.6 M463.62 166.6 v-1.6 M488.41 166.6 v-1.6 M513.2 166.6 v-1.6 M290.1 166.6 h1.6 M290.1 152.1 h1.6 M290.1 137.6 h1.6 M290.1 123.1 h1.6 M290.1 108.6 h1.6" stroke="#7a7a7a" stroke-width="0.7"/><text y="184" text-anchor="middle" font-size="8" fill="#444444"><tspan x="394.85" font-style="italic" font-size="8.8">t</tspan><tspan x="401.25" font-style="italic">/</tspan><tspan x="406.55">s</tspan></text><text transform="translate(278.3,137.25) rotate(-90)" text-anchor="middle" font-size="8" fill="#444444"><tspan font-style="italic" font-size="6.5">δ </tspan><tspan>V</tspan> / m/s</text><rect x="475.6" y="91.4" width="40.9" height="30.8" fill="#fff" stroke="#7a7a7a" stroke-width="0.9"/><line x1="479.7" y1="97" x2="499" y2="97" stroke="#2a92d9" stroke-width="1"/><text x="500.7" y="99" font-size="6.4" font-style="italic" fill="#383838"><tspan font-size="5.5">δ</tspan> <tspan font-size="7.6">V</tspan><tspan font-size="4.3" dx="1" dy="2.8">E</tspan></text><line x1="479.7" y1="106.6" x2="499" y2="106.6" stroke="#ee6c3e" stroke-width="1"/><text x="500.7" y="108.6" font-size="6.4" font-style="italic" fill="#383838"><tspan font-size="5.5">δ</tspan> <tspan font-size="7.6">V</tspan><tspan font-size="4.3" dx="1" dy="2.8">N</tspan></text><line x1="479.7" y1="116.2" x2="499" y2="116.2" stroke="#f4b030" stroke-width="1"/><text x="500.7" y="118.2" font-size="6.4" font-style="italic" fill="#383838"><tspan font-size="5.5">δ</tspan> <tspan font-size="7.6">V</tspan><tspan font-size="4.3" dx="1" dy="2.8">U</tspan></text></g><g><clipPath id="clip_b3"><rect x="290.1" y="195.1" width="223.6" height="58.4"/></clipPath><path clip-path="url(#clip_b3)" d="M290.15,238.54C291.93,238.72 296.94,239.36 300.87,239.61C304.81,239.86 309.1,239.9 313.75,240.04C318.4,240.18 324.48,240.04 328.77,240.47C333.06,240.9 335.56,242.15 339.49,242.61C343.43,243.08 348.79,243.22 352.37,243.26C355.94,243.29 358.09,242.72 360.95,242.83C363.81,242.93 366.67,243.83 369.53,243.9C372.39,243.97 374.9,243.54 378.11,243.26C381.33,242.97 385.2,242.61 388.84,242.18C392.49,241.76 396.86,240.83 400,240.71C403.14,240.59 405.17,241.22 407.66,241.48C410.15,241.73 413.54,242.75 414.94,242.24C416.35,241.73 415.71,239.37 416.09,238.41C416.48,237.45 416.79,236.37 417.24,236.49C417.69,236.62 418.2,238.41 418.77,239.18C419.35,239.94 420.11,240.58 420.69,241.09C421.26,241.6 421.58,241.86 422.22,242.24C422.86,242.62 423.82,242.88 424.52,243.39C425.22,243.9 425.8,244.73 426.44,245.31C427.08,245.88 427.78,246.39 428.35,246.84C428.93,247.29 429.37,248.31 429.89,247.99C430.4,247.67 430.91,246.01 431.42,244.92C431.93,243.84 432.44,241.92 432.95,241.48C433.46,241.03 433.97,242.24 434.48,242.24C434.99,242.24 435.5,241.16 436.02,241.48C436.53,241.79 437.04,243.2 437.55,244.16C438.06,245.11 438.67,246.84 439.08,247.22C439.49,247.61 439.18,246.87 440,246.46C440.82,246.04 441.02,245.23 443.98,244.71C446.94,244.19 453.94,243.83 457.77,243.33C461.6,242.84 463.52,241.88 466.97,241.72C470.41,241.57 474.63,242.41 478.46,242.41C482.29,242.41 486.12,241.84 489.95,241.72C493.79,241.61 497.43,241.53 501.45,241.72C505.47,241.92 511.98,242.68 514.09,242.87" fill="none" stroke="#2a92d9" stroke-width="1.1" stroke-linejoin="round"/><path clip-path="url(#clip_b3)" d="M290.15,238.54C291.93,238.68 296.94,239.14 300.87,239.39C304.81,239.64 308.74,239.93 313.75,240.04C318.75,240.15 325.91,240.11 330.91,240.04C335.92,239.97 339.49,239.61 343.79,239.61C348.08,239.61 351.65,240.04 356.66,240.04C361.67,240.04 368.82,239.86 373.82,239.61C378.83,239.36 382.33,238.67 386.7,238.54C391.06,238.4 396.51,238.94 400,238.79C403.49,238.64 405.17,238.03 407.66,237.64C410.15,237.26 413.6,236.05 414.94,236.49C416.28,236.94 415.39,239.05 415.71,240.33C416.03,241.6 416.41,243.2 416.86,244.16C417.31,245.11 417.88,245.88 418.39,246.07C418.9,246.26 419.41,245.82 419.92,245.31C420.43,244.8 420.95,243.65 421.46,243.01C421.97,242.37 422.48,241.54 422.99,241.48C423.5,241.41 424.01,242.05 424.52,242.62C425.03,243.2 425.42,244.28 426.05,244.92C426.69,245.56 427.59,245.82 428.35,246.46C429.12,247.09 429.89,248.05 430.65,248.75C431.42,249.46 432.18,250.54 432.95,250.67C433.72,250.8 434.48,250.1 435.25,249.52C436.02,248.95 436.76,247.92 437.55,247.22C438.34,246.52 438.93,245.72 440,245.31C441.07,244.89 441.02,245.04 443.98,244.71C446.94,244.38 453.17,243.45 457.77,243.33C462.37,243.22 466.97,243.79 471.56,244.02C476.16,244.25 480.76,244.52 485.36,244.71C489.95,244.9 494.36,244.9 499.15,245.17C503.94,245.44 511.6,246.13 514.09,246.32" fill="none" stroke="#ee6c3e" stroke-width="1.1" stroke-linejoin="round"/><path clip-path="url(#clip_b3)" d="M290.15,224.59C291.93,224.66 296.94,224.88 300.87,225.02C304.81,225.16 308.74,225.45 313.75,225.45C318.75,225.45 325.91,224.91 330.91,225.02C335.92,225.13 339.14,225.98 343.79,226.09C348.43,226.2 353.8,225.77 358.8,225.66C363.81,225.56 369.17,225.48 373.82,225.45C378.47,225.41 382.33,225.22 386.7,225.45C391.06,225.68 396.57,226.51 400,226.82C403.43,227.12 404.85,227.27 407.27,227.27C409.7,227.27 413.11,227.58 414.55,226.82C415.98,226.06 415.45,224.62 415.91,222.73C416.36,220.83 416.82,217.12 417.27,215.45C417.73,213.79 418.26,213.33 418.64,212.73C419.02,212.12 419.24,211.59 419.55,211.82C419.85,212.05 420.08,213.94 420.45,214.09C420.83,214.24 421.36,213.11 421.82,212.73C422.27,212.35 422.73,212.12 423.18,211.82C423.64,211.52 424.17,211.44 424.55,210.91C424.92,210.38 425.08,209.39 425.45,208.64C425.83,207.88 426.36,206.36 426.82,206.36C427.27,206.36 427.73,208.03 428.18,208.64C428.64,209.24 429.09,208.86 429.55,210C430,211.14 430.53,214.09 430.91,215.45C431.29,216.82 431.44,217.95 431.82,218.18C432.2,218.41 432.8,216.74 433.18,216.82C433.56,216.89 433.71,218.56 434.09,218.64C434.47,218.71 435,217.88 435.45,217.27C435.91,216.67 436.36,215.15 436.82,215C437.27,214.85 437.65,216.14 438.18,216.36C438.71,216.59 439.03,216.47 440,216.36C440.97,216.26 441.4,215.62 443.98,215.75C446.56,215.87 451.64,216.9 455.47,217.13C459.3,217.36 463.13,217.05 466.97,217.13C470.8,217.2 474.63,217.32 478.46,217.59C482.29,217.85 486.12,218.43 489.95,218.74C493.79,219.04 497.43,219.43 501.45,219.43C505.47,219.43 511.98,218.85 514.09,218.74" fill="none" stroke="#f4b030" stroke-width="1.1" stroke-linejoin="round"/><path d="M290.1 195.6 V253.5 H513.2" fill="none" stroke="#7a7a7a" stroke-width="0.8"/><text x="290.1" y="261.9" text-anchor="middle" font-size="6.5" fill="#444444">0</text><text x="314.89" y="261.9" text-anchor="middle" font-size="6.5" fill="#444444">50</text><text x="339.68" y="261.9" text-anchor="middle" font-size="6.5" fill="#444444">100</text><text x="364.47" y="261.9" text-anchor="middle" font-size="6.5" fill="#444444">150</text><text x="389.26" y="261.9" text-anchor="middle" font-size="6.5" fill="#444444">200</text><text x="414.04" y="261.9" text-anchor="middle" font-size="6.5" fill="#444444">250</text><text x="438.83" y="261.9" text-anchor="middle" font-size="6.5" fill="#444444">300</text><text x="463.62" y="261.9" text-anchor="middle" font-size="6.5" fill="#444444">350</text><text x="488.41" y="261.9" text-anchor="middle" font-size="6.5" fill="#444444">400</text><text x="513.2" y="261.9" text-anchor="middle" font-size="6.5" fill="#444444">450</text><text x="287.8" y="255.7" text-anchor="end" font-size="6.5" fill="#444444">-50</text><text x="287.8" y="241.22" text-anchor="end" font-size="6.5" fill="#444444">0</text><text x="287.8" y="226.75" text-anchor="end" font-size="6.5" fill="#444444">50</text><text x="287.8" y="212.27" text-anchor="end" font-size="6.5" fill="#444444">100</text><text x="287.8" y="197.8" text-anchor="end" font-size="6.5" fill="#444444">150</text><path d="M290.1 253.5 v-1.6 M314.89 253.5 v-1.6 M339.68 253.5 v-1.6 M364.47 253.5 v-1.6 M389.26 253.5 v-1.6 M414.04 253.5 v-1.6 M438.83 253.5 v-1.6 M463.62 253.5 v-1.6 M488.41 253.5 v-1.6 M513.2 253.5 v-1.6 M290.1 253.5 h1.6 M290.1 239.03 h1.6 M290.1 224.55 h1.6 M290.1 210.07 h1.6 M290.1 195.6 h1.6" stroke="#7a7a7a" stroke-width="0.7"/><text y="270.9" text-anchor="middle" font-size="8" fill="#444444"><tspan x="394.85" font-style="italic" font-size="8.8">t</tspan><tspan x="401.25" font-style="italic">/</tspan><tspan x="406.55">s</tspan></text><text transform="translate(271.3,223.3) rotate(-90)" text-anchor="middle" font-size="8.5" fill="#444444"><tspan font-style="italic"><tspan font-size="7">ϕ</tspan>  /  <tspan font-weight="bold">ı</tspan></tspan></text><rect x="478.5" y="187.4" width="39.2" height="30.6" fill="#fff" stroke="#7a7a7a" stroke-width="0.9"/><line x1="483" y1="193.2" x2="504.5" y2="193.2" stroke="#2a92d9" stroke-width="1"/><text x="507.2" y="195.2" font-size="6.4" font-style="italic" fill="#383838">ϕ<tspan font-size="4" dy="2">E</tspan></text><line x1="483" y1="202.6" x2="504.5" y2="202.6" stroke="#ee6c3e" stroke-width="1"/><text x="507.2" y="204.6" font-size="6.4" font-style="italic" fill="#383838">ϕ<tspan font-size="4" dy="2">N</tspan></text><line x1="483" y1="212.1" x2="504.5" y2="212.1" stroke="#f4b030" stroke-width="1"/><text x="507.2" y="214.1" font-size="6.4" font-style="italic" fill="#383838">ϕ<tspan font-size="4" dy="2">U</tspan></text></g><g><clipPath id="clip_d1"><rect x="289.8" y="296" width="223.9" height="58.1"/></clipPath><path clip-path="url(#clip_d1)" d="M289.72,314.94C290.2,315.33 291.54,316.95 292.6,317.24C293.65,317.53 294.9,316.95 296.05,316.67C297.2,316.38 298.34,315.52 299.49,315.52C300.64,315.52 301.79,316.38 302.94,316.67C304.09,316.95 305.43,317.53 306.39,317.24C307.35,316.95 307.54,315.42 308.69,314.94C309.84,314.46 311.75,314.27 313.29,314.37C314.82,314.46 316.54,315.04 317.89,315.52C319.23,316 320.18,316.8 321.33,317.24C322.48,317.68 323.63,318.35 324.78,318.16C325.93,317.97 327.36,316.69 328.23,316.09C329.1,315.49 328.94,314.88 330,314.56C331.06,314.24 333.51,314.18 334.6,314.18C335.68,314.18 336,314.11 336.51,314.56C337.02,315.01 337.22,316.09 337.66,316.86C338.11,317.62 338.68,318.77 339.2,319.16C339.71,319.54 340.09,319.54 340.73,319.16C341.37,318.77 342.32,317.88 343.03,316.86C343.73,315.84 344.18,313.86 344.94,313.03C345.71,312.2 346.79,312.26 347.62,311.88C348.45,311.49 349.16,311.05 349.92,310.73C350.69,310.41 351.46,309.83 352.22,309.96C352.99,310.09 353.75,310.86 354.52,311.49C355.29,312.13 356.05,312.71 356.82,313.79C357.59,314.88 358.22,316.99 359.12,318.01C360.01,319.03 361.16,319.54 362.18,319.92C363.21,320.31 364.23,320.43 365.25,320.31C366.27,320.18 367.52,319.48 368.31,319.16C369.11,318.84 369.48,318.61 370,318.39C370.52,318.17 370.81,318.01 371.44,317.82C372.06,317.62 373.07,317.15 373.74,317.24C374.41,317.34 374.89,318.49 375.46,318.39C376.03,318.3 376.51,316.57 377.18,316.67C377.85,316.76 378.72,318.49 379.48,318.97C380.25,319.44 381.02,319.83 381.78,319.54C382.55,319.25 383.12,317.72 384.08,317.24C385.04,316.76 386.38,316.95 387.53,316.67C388.68,316.38 390.02,316.09 390.98,315.52C391.93,314.94 392.32,313.6 393.28,313.22C394.23,312.84 395.57,313.03 396.72,313.22C397.87,313.41 399.21,313.98 400.17,314.37C401.13,314.75 401.67,315.23 402.47,315.52C403.28,315.8 403.88,315.8 405,316.09C406.12,316.38 407.73,317.43 409.2,317.24C410.66,317.05 412.45,315.52 413.79,314.94C415.13,314.37 416.28,313.31 417.24,313.79C418.2,314.27 418.58,317.34 419.54,317.82C420.5,318.3 421.65,317.24 422.99,316.67C424.33,316.09 426.25,315.04 427.59,314.37C428.93,313.7 429.89,312.64 431.03,312.64C432.18,312.64 433.14,313.98 434.48,314.37C435.82,314.75 437.74,314.94 439.08,314.94C440.42,314.94 441.38,314.18 442.53,314.37C443.68,314.56 444.64,315.8 445.98,316.09C447.32,316.38 449.04,316.28 450.57,316.09C452.11,315.9 453.6,315.42 455.17,314.94C456.74,314.46 458.98,313.7 460,313.22C461.02,312.74 460.62,311.97 461.32,312.07C462.02,312.16 463.14,313.31 464.2,313.79C465.25,314.27 466.3,314.66 467.64,314.94C468.98,315.23 470.71,315.42 472.24,315.52C473.77,315.61 475.31,315.71 476.84,315.52C478.37,315.33 480.1,314.46 481.44,314.37C482.78,314.27 483.83,315.52 484.89,314.94C485.94,314.37 486.99,311.02 487.76,310.92C488.52,310.82 488.62,313.51 489.48,314.37C490.34,315.23 491.78,315.52 492.93,316.09C494.08,316.67 495.42,318.2 496.38,317.82C497.34,317.43 497.72,314.27 498.68,313.79C499.64,313.31 500.98,314.46 502.13,314.94C503.28,315.42 504.43,316.19 505.57,316.67C506.72,317.15 507.78,317.72 509.02,317.82C510.27,317.91 512.38,317.34 513.05,317.24" fill="none" stroke="#2a92d9" stroke-width="1.1" stroke-linejoin="round"/><path clip-path="url(#clip_d1)" d="M289.72,316.09C290.2,316.57 291.74,318.49 292.6,318.97C293.46,319.44 293.75,319.25 294.9,318.97C296.05,318.68 298.15,317.49 299.49,317.24C300.84,316.99 301.79,317.28 302.94,317.47C304.09,317.66 305.43,319 306.39,318.39C307.35,317.78 307.54,314.27 308.69,313.79C309.84,313.31 311.75,314.94 313.29,315.52C314.82,316.09 316.54,316.95 317.89,317.24C319.23,317.53 320.18,317.24 321.33,317.24C322.48,317.24 323.44,317.15 324.78,317.24C326.12,317.34 328.51,317.69 329.38,317.82C330.25,317.94 329.39,317.91 330,318.01C330.61,318.1 332.04,318.07 333.07,318.39C334.09,318.71 335.24,319.35 336.13,319.92C337.02,320.5 337.54,321.46 338.43,321.84C339.32,322.22 340.6,322.22 341.49,322.22C342.39,322.22 343.22,322.35 343.79,321.84C344.37,321.33 344.56,319.48 344.94,319.16C345.33,318.84 345.52,320.05 346.09,319.92C346.67,319.8 347.62,318.97 348.39,318.39C349.16,317.82 349.99,317.11 350.69,316.48C351.39,315.84 352.09,314.24 352.61,314.56C353.12,314.88 353.31,317.94 353.75,318.39C354.2,318.84 354.71,317.62 355.29,317.24C355.86,316.86 356.56,316.03 357.2,316.09C357.84,316.16 358.29,316.99 359.12,317.62C359.95,318.26 361.16,319.48 362.18,319.92C363.21,320.37 364.23,320.5 365.25,320.31C366.27,320.11 367.52,319.16 368.31,318.77C369.11,318.39 369.67,318.17 370,318.01C370.33,317.85 369.66,318.04 370.29,317.82C370.91,317.59 372.59,316.67 373.74,316.67C374.89,316.67 376.23,317.53 377.18,317.82C378.14,318.1 378.52,318.39 379.48,318.39C380.44,318.39 381.78,318.01 382.93,317.82C384.08,317.62 385.04,317.62 386.38,317.24C387.72,316.86 389.44,316 390.98,315.52C392.51,315.04 394.04,314.56 395.57,314.37C397.11,314.18 399.02,314.46 400.17,314.37C401.32,314.27 401.67,314.37 402.47,313.79C403.28,313.22 404.26,311.69 405,310.92C405.74,310.15 406.01,309.1 406.9,309.2C407.79,309.29 409.29,310.92 410.34,311.49C411.4,312.07 412.55,311.4 413.22,312.64C413.89,313.89 413.7,317.82 414.37,318.97C415.04,320.11 416.19,319.06 417.24,319.54C418.3,320.02 419.54,322.03 420.69,321.84C421.84,321.65 422.99,319.54 424.14,318.39C425.29,317.24 426.44,315.23 427.59,314.94C428.74,314.66 429.89,316.28 431.03,316.67C432.18,317.05 433.14,317.05 434.48,317.24C435.82,317.43 437.55,318.1 439.08,317.82C440.61,317.53 442.34,316.38 443.68,315.52C445.02,314.66 445.98,312.55 447.13,312.64C448.28,312.74 449.43,315.13 450.57,316.09C451.72,317.05 452.87,317.91 454.02,318.39C455.17,318.87 456.48,319.16 457.47,318.97C458.47,318.77 459.26,317.53 460,317.24C460.74,316.95 461.01,317.24 461.9,317.24C462.79,317.24 464.2,317.53 465.34,317.24C466.49,316.95 467.45,316 468.79,315.52C470.13,315.04 472.05,314.18 473.39,314.37C474.73,314.56 475.69,316 476.84,316.67C477.99,317.34 478.95,318.49 480.29,318.39C481.63,318.3 483.64,317.24 484.89,316.09C486.13,314.94 486.99,312.07 487.76,311.49C488.52,310.92 488.62,312.55 489.48,312.64C490.34,312.74 491.78,312.07 492.93,312.07C494.08,312.07 495.23,312.45 496.38,312.64C497.53,312.84 498.68,312.74 499.83,313.22C500.98,313.7 501.93,314.56 503.28,315.52C504.62,316.48 506.72,318.77 507.87,318.97C509.02,319.16 509.31,317.43 510.17,316.67C511.03,315.9 512.57,314.75 513.05,314.37" fill="none" stroke="#ee6c3e" stroke-width="1.1" stroke-linejoin="round"/><path clip-path="url(#clip_d1)" d="M289.72,312.64C290.01,312.36 290.87,310.34 291.45,310.92C292.02,311.49 292.41,315.33 293.17,316.09C293.94,316.86 294.99,316.09 296.05,315.52C297.1,314.94 298.34,313.51 299.49,312.64C300.64,311.78 301.89,310.82 302.94,310.34C304,309.87 305.15,309.2 305.82,309.77C306.49,310.34 306.49,312.93 306.97,313.79C307.44,314.66 307.64,314.75 308.69,314.94C309.74,315.13 311.75,314.75 313.29,314.94C314.82,315.13 316.74,315.71 317.89,316.09C319.03,316.48 319.51,317.53 320.18,317.24C320.85,316.95 321.14,314.94 321.91,314.37C322.67,313.79 323.92,313.6 324.78,313.79C325.64,313.98 326.21,314.94 327.08,315.52C327.95,316.09 329,316.89 330,317.24C331,317.59 332.11,317.43 333.07,317.62C334.02,317.82 335.17,318.77 335.75,318.39C336.32,318.01 336.26,316.48 336.51,315.33C336.77,314.18 336.83,312.64 337.28,311.49C337.73,310.34 338.49,309.13 339.2,308.43C339.9,307.73 340.79,307.66 341.49,307.28C342.2,306.9 342.96,305.81 343.41,306.13C343.86,306.45 343.98,308.17 344.18,309.2C344.37,310.22 344.37,311.37 344.56,312.26C344.75,313.15 344.81,313.92 345.33,314.56C345.84,315.2 346.86,315.77 347.62,316.09C348.39,316.41 349.28,316.35 349.92,316.48C350.56,316.6 351.01,316.54 351.46,316.86C351.9,317.18 352.35,317.75 352.61,318.39C352.86,319.03 352.67,319.99 352.99,320.69C353.31,321.39 353.75,322.22 354.52,322.61C355.29,322.99 356.56,323.05 357.59,322.99C358.61,322.92 359.63,322.41 360.65,322.22C361.67,322.03 362.69,321.84 363.72,321.84C364.74,321.84 365.73,322.09 366.78,322.22C367.83,322.35 369.22,323.15 370,322.61C370.78,322.06 370.91,319.28 371.44,318.97C371.96,318.65 372.59,319.06 373.16,320.69C373.74,322.32 374.21,326.25 374.89,328.74C375.56,331.23 376.51,335.06 377.18,335.63C377.85,336.21 378.33,334.29 378.91,332.18C379.48,330.08 379.96,325.29 380.63,322.99C381.3,320.69 381.97,319.35 382.93,318.39C383.89,317.43 385.04,317.43 386.38,317.24C387.72,317.05 389.64,317.05 390.98,317.24C392.32,317.43 393.08,318.39 394.43,318.39C395.77,318.39 397.68,316.86 399.02,317.24C400.36,317.62 401.48,319.64 402.47,320.69C403.47,321.74 403.88,323.66 405,323.56C406.12,323.47 407.92,320.79 409.2,320.11C410.47,319.44 411.78,320.79 412.64,319.54C413.51,318.3 413.7,314.37 414.37,312.64C415.04,310.92 416.09,308.72 416.67,309.2C417.24,309.67 417.34,313.89 417.82,315.52C418.3,317.15 418.68,318.68 419.54,318.97C420.4,319.25 422.13,318.49 422.99,317.24C423.85,316 424.14,314.08 424.71,311.49C425.29,308.91 425.57,303.07 426.44,301.72C427.3,300.38 428.93,302.39 429.89,303.45C430.84,304.5 431.61,306.32 432.18,308.05C432.76,309.77 432.76,312.84 433.33,313.79C433.91,314.75 434.67,314.18 435.63,313.79C436.59,313.41 438.12,312.07 439.08,311.49C440.04,310.92 440.42,310.34 441.38,310.34C442.34,310.34 443.68,310.34 444.83,311.49C445.98,312.64 447.41,315.9 448.28,317.24C449.14,318.58 449.23,320.4 450,319.54C450.77,318.68 452.01,314.08 452.87,312.07C453.74,310.06 454.41,307.66 455.17,307.47C455.94,307.28 456.67,311.02 457.47,310.92C458.28,310.82 459.36,306.7 460,306.9C460.64,307.09 460.62,310.54 461.32,312.07C462.02,313.6 463.14,315.61 464.2,316.09C465.25,316.57 466.49,315.42 467.64,314.94C468.79,314.46 470.04,313.79 471.09,313.22C472.15,312.64 473.2,311.21 473.97,311.49C474.73,311.78 475.02,313.98 475.69,314.94C476.36,315.9 477.22,316.57 477.99,317.24C478.75,317.91 479.43,317.91 480.29,318.97C481.15,320.02 482.2,323.18 483.16,323.56C484.12,323.95 485.17,321.26 486.03,321.26C486.9,321.26 487.38,323.66 488.33,323.56C489.29,323.47 490.63,321.46 491.78,320.69C492.93,319.92 494.27,319.92 495.23,318.97C496.19,318.01 496.95,316 497.53,314.94C498.1,313.89 498.1,313.03 498.68,312.64C499.25,312.26 500.02,312.55 500.98,312.64C501.93,312.74 503.28,312.84 504.43,313.22C505.57,313.6 506.92,314.27 507.87,314.94C508.83,315.61 509.31,316.76 510.17,317.24C511.03,317.72 512.57,317.72 513.05,317.82" fill="none" stroke="#f4b030" stroke-width="1.1" stroke-linejoin="round"/><path d="M289.8 296.5 V354.1 H513.2" fill="none" stroke="#7a7a7a" stroke-width="0.8"/><text x="289.8" y="362.5" text-anchor="middle" font-size="6.5" fill="#444444">0</text><text x="314.62" y="362.5" text-anchor="middle" font-size="6.5" fill="#444444">50</text><text x="339.44" y="362.5" text-anchor="middle" font-size="6.5" fill="#444444">100</text><text x="364.27" y="362.5" text-anchor="middle" font-size="6.5" fill="#444444">150</text><text x="389.09" y="362.5" text-anchor="middle" font-size="6.5" fill="#444444">200</text><text x="413.91" y="362.5" text-anchor="middle" font-size="6.5" fill="#444444">250</text><text x="438.73" y="362.5" text-anchor="middle" font-size="6.5" fill="#444444">300</text><text x="463.56" y="362.5" text-anchor="middle" font-size="6.5" fill="#444444">350</text><text x="488.38" y="362.5" text-anchor="middle" font-size="6.5" fill="#444444">400</text><text x="513.2" y="362.5" text-anchor="middle" font-size="6.5" fill="#444444">450</text><text x="287.5" y="356.3" text-anchor="end" font-size="6.5" fill="#444444">-40</text><text x="287.5" y="337.1" text-anchor="end" font-size="6.5" fill="#444444">-20</text><text x="287.5" y="317.9" text-anchor="end" font-size="6.5" fill="#444444">0</text><text x="287.5" y="298.7" text-anchor="end" font-size="6.5" fill="#444444">20</text><path d="M289.8 354.1 v-1.6 M314.62 354.1 v-1.6 M339.44 354.1 v-1.6 M364.27 354.1 v-1.6 M389.09 354.1 v-1.6 M413.91 354.1 v-1.6 M438.73 354.1 v-1.6 M463.56 354.1 v-1.6 M488.38 354.1 v-1.6 M513.2 354.1 v-1.6 M289.8 354.1 h1.6 M289.8 334.9 h1.6 M289.8 315.7 h1.6 M289.8 296.5 h1.6" stroke="#7a7a7a" stroke-width="0.7"/><text y="371.5" text-anchor="middle" font-size="8" fill="#444444"><tspan x="394.7" font-style="italic" font-size="8.8">t</tspan><tspan x="401.1" font-style="italic">/</tspan><tspan x="406.4">s</tspan></text><text transform="translate(274.8,325.05) rotate(-90)" text-anchor="middle" font-size="8" fill="#444444"><tspan font-style="italic" font-size="6.5">δ </tspan><tspan font-style="italic">P</tspan> / m</text><rect x="474.2" y="282.6" width="37.4" height="26.9" fill="#fff" stroke="#7a7a7a" stroke-width="0.9"/><line x1="478.3" y1="287.6" x2="498.2" y2="287.6" stroke="#2a92d9" stroke-width="1"/><text x="500.1" y="290" font-size="6.4" font-style="italic" fill="#383838">δ <tspan font-style="italic">L</tspan></text><line x1="478.3" y1="296" x2="498.2" y2="296" stroke="#ee6c3e" stroke-width="1"/><text x="500.1" y="298.4" font-size="6.4" font-style="italic" fill="#383838">δ λ</text><line x1="478.3" y1="303.9" x2="498.2" y2="303.9" stroke="#f4b030" stroke-width="1"/><text x="500.1" y="306.3" font-size="6.4" font-style="italic" fill="#383838">δ <tspan font-style="italic">H</tspan></text></g><g><clipPath id="clip_d2"><rect x="290" y="383" width="223.7" height="58.2"/></clipPath><path clip-path="url(#clip_d2)" d="M289.72,412.59C290.01,413.07 290.87,414.69 291.45,415.46C292.02,416.23 292.41,417.38 293.17,417.18C293.94,416.99 295.09,414.98 296.05,414.31C297,413.64 298.06,413.93 298.92,413.16C299.78,412.39 300.55,409.81 301.22,409.71C301.89,409.62 302.27,411.53 302.94,412.59C303.61,413.64 304.28,415.08 305.24,416.03C306.2,416.99 307.54,417.66 308.69,418.33C309.84,419 310.99,420.15 312.14,420.06C313.29,419.96 314.44,418.72 315.59,417.76C316.74,416.8 317.89,415.27 319.03,414.31C320.18,413.35 321.52,412.2 322.48,412.01C323.44,411.82 323.92,412.3 324.78,413.16C325.64,414.02 326.7,417.09 327.66,417.18C328.61,417.28 329.48,414.5 330.53,413.74C331.58,412.97 332.83,412.39 333.98,412.59C335.13,412.78 336.28,414.69 337.43,414.89C338.57,415.08 339.92,414.12 340.87,413.74C341.83,413.35 342.6,411.05 343.17,412.59C343.75,414.12 344.03,423.41 344.32,422.93C344.61,422.45 344.28,411.92 344.9,409.71C345.51,407.51 347.41,410.38 348,409.71C348.59,409.04 347.99,406.84 348.45,405.69C348.91,404.54 349.98,403.68 350.75,402.82C351.51,401.95 352.28,399.46 353.05,400.52C353.81,401.57 354.58,406.55 355.34,409.14C356.11,411.72 356.69,413.93 357.64,416.03C358.6,418.14 359.94,421.4 361.09,421.78C362.24,422.16 363.39,419.96 364.54,418.33C365.69,416.7 366.84,413.54 367.99,412.01C369.14,410.48 370.48,408.75 371.44,409.14C372.39,409.52 372.97,414.02 373.74,414.31C374.5,414.6 375.27,411.15 376.03,410.86C376.8,410.57 377.57,412.87 378.33,412.59C379.1,412.3 379.87,409.14 380.63,409.14C381.4,409.14 381.97,412.3 382.93,412.59C383.89,412.87 385.42,411.53 386.38,410.86C387.34,410.19 387.91,408.28 388.68,408.56C389.44,408.85 390.02,413.07 390.98,412.59C391.93,412.11 393.28,407.22 394.43,405.69C395.57,404.16 396.72,403.58 397.87,403.39C399.02,403.2 400.13,404.83 401.32,404.54C402.51,404.25 404.36,402.15 405,401.67C405.64,401.19 404.66,400.71 405.17,401.67C405.68,402.62 406.99,406.55 408.05,407.41C409.1,408.28 410.54,407.22 411.49,406.84C412.45,406.46 413.03,404.16 413.79,405.11C414.56,406.07 415.33,410.77 416.09,412.59C416.86,414.41 417.62,416.23 418.39,416.03C419.16,415.84 420.02,413.74 420.69,411.44C421.36,409.14 421.84,404.25 422.41,402.24C422.99,400.23 423.56,398.22 424.14,399.37C424.71,400.52 425.1,407.32 425.86,409.14C426.63,410.96 427.68,410.38 428.74,410.29C429.79,410.19 431.23,408.47 432.18,408.56C433.14,408.66 433.52,410 434.48,410.86C435.44,411.72 436.88,414.6 437.93,413.74C438.98,412.87 439.94,405.69 440.8,405.69C441.67,405.69 442.34,411.63 443.1,413.74C443.87,415.84 444.54,418.24 445.4,418.33C446.26,418.43 447.22,415.27 448.28,414.31C449.33,413.35 450.57,412.49 451.72,412.59C452.87,412.68 454.02,413.74 455.17,414.89C456.32,416.03 457.82,418.91 458.62,419.48C459.43,420.06 459.45,419.29 460,418.33C460.55,417.38 461.01,414.79 461.9,413.74C462.79,412.68 464.2,412.01 465.34,412.01C466.49,412.01 467.64,412.97 468.79,413.74C469.94,414.5 471.09,416.03 472.24,416.61C473.39,417.18 474.73,417.66 475.69,417.18C476.65,416.7 477.03,414.89 477.99,413.74C478.95,412.59 480.29,410.67 481.44,410.29C482.59,409.9 483.83,411.15 484.89,411.44C485.94,411.72 487.19,411.92 487.76,412.01C488.33,412.11 488.13,417.17 488.3,412C488.47,406.83 488.63,376.33 488.8,381C488.97,385.67 489.05,440 489.3,440C489.55,440 490.05,385.67 490.3,381C490.55,376.33 490.36,407.31 490.8,412C491.24,416.69 492,409.14 492.93,409.14C493.86,409.14 495.23,410.77 496.38,412.01C497.53,413.26 498.68,414.98 499.83,416.61C500.98,418.24 502.32,420.73 503.28,421.78C504.23,422.84 504.81,423.51 505.57,422.93C506.34,422.36 507.11,420.25 507.87,418.33C508.64,416.42 509.41,413.26 510.17,411.44C510.94,409.62 511.8,407.99 512.47,407.41C513.14,406.84 513.91,407.89 514.2,407.99" fill="none" stroke="#2a92d9" stroke-width="1.1" stroke-linejoin="round"/><path clip-path="url(#clip_d2)" d="M289.72,418.33C290.01,417.18 290.78,413.26 291.45,411.44C292.12,409.62 292.79,408.47 293.75,407.41C294.7,406.36 296.24,405.02 297.2,405.11C298.15,405.21 298.82,406.55 299.49,407.99C300.16,409.43 300.45,412.49 301.22,413.74C301.98,414.98 303.23,416.03 304.09,415.46C304.95,414.89 305.62,411.44 306.39,410.29C307.16,409.14 307.73,408.56 308.69,408.56C309.65,408.56 310.99,409.62 312.14,410.29C313.29,410.96 314.44,412.11 315.59,412.59C316.74,413.07 317.89,413.54 319.03,413.16C320.18,412.78 321.33,410.57 322.48,410.29C323.63,410 324.78,411.63 325.93,411.44C327.08,411.25 328.23,409.33 329.38,409.14C330.53,408.95 331.68,410.38 332.83,410.29C333.98,410.19 335.32,408.18 336.28,408.56C337.23,408.95 337.9,411.25 338.57,412.59C339.25,413.93 339.72,416.61 340.3,416.61C340.87,416.61 341.35,413.35 342.02,412.59C342.69,411.82 343.33,412.3 344.32,412.01C345.32,411.72 347.31,411.72 348,410.86C348.69,410 347.8,407.03 348.45,406.84C349.1,406.65 350.75,408.75 351.9,409.71C353.05,410.67 354.2,411.15 355.34,412.59C356.49,414.02 357.64,417.76 358.79,418.33C359.94,418.91 361.09,417.57 362.24,416.03C363.39,414.5 364.54,410.48 365.69,409.14C366.84,407.8 367.99,407.99 369.14,407.99C370.29,407.99 371.44,409.52 372.59,409.14C373.74,408.75 375.08,406.65 376.03,405.69C376.99,404.73 377.57,403.2 378.33,403.39C379.1,403.58 379.87,405.88 380.63,406.84C381.4,407.8 382.16,408.37 382.93,409.14C383.7,409.9 384.27,410.57 385.23,411.44C386.19,412.3 387.53,414.69 388.68,414.31C389.83,413.93 390.98,409.9 392.13,409.14C393.28,408.37 394.43,409.14 395.57,409.71C396.72,410.29 397.87,412.2 399.02,412.59C400.17,412.97 401.48,412.2 402.47,412.01C403.47,411.82 404.26,411.72 405,411.44C405.74,411.15 406.2,409.71 406.9,410.29C407.6,410.86 408.24,414.69 409.2,414.89C410.15,415.08 411.69,411.44 412.64,411.44C413.6,411.44 414.27,415.75 414.94,414.89C415.61,414.02 416.09,405.88 416.67,406.26C417.24,406.65 417.72,416.51 418.39,417.18C419.06,417.85 419.92,411.82 420.69,410.29C421.46,408.75 422.13,407.03 422.99,407.99C423.85,408.95 424.9,415.75 425.86,416.03C426.82,416.32 427.68,410.86 428.74,409.71C429.79,408.56 431.03,408.66 432.18,409.14C433.33,409.62 434.48,411.82 435.63,412.59C436.78,413.35 437.93,413.16 439.08,413.74C440.23,414.31 441.48,415.56 442.53,416.03C443.58,416.51 444.64,417.95 445.4,416.61C446.17,415.27 446.65,409.9 447.13,407.99C447.61,406.07 447.7,404.64 448.28,405.11C448.85,405.59 449.62,409.33 450.57,410.86C451.53,412.39 452.87,413.54 454.02,414.31C455.17,415.08 456.48,415.56 457.47,415.46C458.47,415.36 459.26,415.08 460,413.74C460.74,412.39 461.01,408.08 461.9,407.41C462.79,406.74 464.2,409.04 465.34,409.71C466.49,410.38 467.64,411.05 468.79,411.44C469.94,411.82 471.19,411.05 472.24,412.01C473.3,412.97 474.44,414.98 475.11,417.18C475.79,419.39 475.79,426 476.26,425.23C476.74,424.46 477.13,414.79 477.99,412.59C478.85,410.38 480.29,411.82 481.44,412.01C482.59,412.2 483.93,413.64 484.89,413.74C485.84,413.83 486.76,413.21 487.18,412.59C487.6,411.96 487.3,415.26 487.4,410C487.5,404.74 487.5,375.83 487.8,381C488.1,386.17 488.68,441 489.2,441C489.72,441 490.53,386.17 490.9,381C491.27,375.83 491.25,405.12 491.4,410C491.55,414.88 491.33,409.86 491.78,410.29C492.23,410.72 493.41,411.05 494.08,412.59C494.75,414.12 495.23,419.67 495.8,419.48C496.38,419.29 496.67,413.26 497.53,411.44C498.39,409.62 500.02,408.75 500.98,408.56C501.93,408.37 502.51,409.71 503.28,410.29C504.04,410.86 504.62,411.63 505.57,412.01C506.53,412.39 507.87,411.72 509.02,412.59C510.17,413.45 511.61,416.32 512.47,417.18C513.33,418.05 513.91,417.66 514.2,417.76" fill="none" stroke="#ee6c3e" stroke-width="1.1" stroke-linejoin="round"/><path clip-path="url(#clip_d2)" d="M289.72,402.24C290.01,403.01 290.87,405.31 291.45,406.84C292.02,408.37 292.41,411.15 293.17,411.44C293.94,411.72 295.18,409.62 296.05,408.56C296.91,407.51 297.58,405.11 298.34,405.11C299.11,405.11 299.88,407.32 300.64,408.56C301.41,409.81 301.98,412.68 302.94,412.59C303.9,412.49 305.24,408.56 306.39,407.99C307.54,407.41 308.69,408.85 309.84,409.14C310.99,409.43 311.95,409.33 313.29,409.71C314.63,410.1 316.35,411.44 317.89,411.44C319.42,411.44 321.14,409.52 322.48,409.71C323.82,409.9 324.97,411.53 325.93,412.59C326.89,413.64 327.27,415.84 328.23,416.03C329.19,416.23 330.72,413.74 331.68,413.74C332.64,413.74 333.21,416.51 333.98,416.03C334.74,415.56 335.51,411.25 336.28,410.86C337.04,410.48 337.62,413.26 338.57,413.74C339.53,414.21 341.1,413.93 342.02,413.74C342.94,413.54 343.71,416.23 344.09,412.59C344.48,408.95 344.23,395.34 344.32,391.9C344.42,388.45 344.57,388.64 344.67,391.9C344.76,395.15 344.34,408.08 344.9,411.44C345.45,414.79 347.41,412.2 348,412.01C348.59,411.82 347.8,409.71 348.45,410.29C349.1,410.86 350.75,415.56 351.9,415.46C353.05,415.36 354.2,411.34 355.34,409.71C356.49,408.08 357.84,405.02 358.79,405.69C359.75,406.36 360.33,412.11 361.09,413.74C361.86,415.36 362.43,415.65 363.39,415.46C364.35,415.27 365.69,413.83 366.84,412.59C367.99,411.34 369.14,408.47 370.29,407.99C371.44,407.51 372.78,408.75 373.74,409.71C374.69,410.67 375.36,411.53 376.03,413.74C376.7,415.94 377.18,423.51 377.76,422.93C378.33,422.36 378.81,412.97 379.48,410.29C380.15,407.61 381.21,409.14 381.78,406.84C382.36,404.54 382.55,396.49 382.93,396.49C383.31,396.49 383.31,404.54 384.08,406.84C384.85,409.14 386.38,410.1 387.53,410.29C388.68,410.48 389.83,408.37 390.98,407.99C392.13,407.61 393.28,407.7 394.43,407.99C395.57,408.28 396.72,409.23 397.87,409.71C399.02,410.19 400.13,410.86 401.32,410.86C402.51,410.86 404.07,409.62 405,409.71C405.93,409.81 406.01,411.72 406.9,411.44C407.79,411.15 409.2,407.89 410.34,407.99C411.49,408.08 412.64,411.63 413.79,412.01C414.94,412.39 416,411.53 417.24,410.29C418.49,409.04 420.11,404.54 421.26,404.54C422.41,404.54 423.08,409.52 424.14,410.29C425.19,411.05 426.44,409.52 427.59,409.14C428.74,408.75 429.89,407.89 431.03,407.99C432.18,408.08 433.33,409.14 434.48,409.71C435.63,410.29 436.88,410.57 437.93,411.44C438.98,412.3 440.04,413.16 440.8,414.89C441.57,416.61 441.86,420.63 442.53,421.78C443.2,422.93 444.06,423.12 444.83,421.78C445.59,420.44 446.17,415.27 447.13,413.74C448.08,412.2 449.43,412.97 450.57,412.59C451.72,412.2 452.87,412.2 454.02,411.44C455.17,410.67 456.48,408.37 457.47,407.99C458.47,407.61 459.26,408.85 460,409.14C460.74,409.43 461.01,410 461.9,409.71C462.79,409.43 464.39,408.28 465.34,407.41C466.3,406.55 466.69,404.73 467.64,404.54C468.6,404.35 469.94,405.88 471.09,406.26C472.24,406.65 473.58,405.79 474.54,406.84C475.5,407.89 475.88,411.82 476.84,412.59C477.8,413.35 478.95,411.72 480.29,411.44C481.63,411.15 483.54,410.96 484.89,410.86C486.23,410.77 487.18,411.15 488.33,410.86C489.48,410.57 490.63,409.71 491.78,409.14C492.93,408.56 494.08,407.22 495.23,407.41C496.38,407.61 497.53,409.9 498.68,410.29C499.83,410.67 500.98,409.43 502.13,409.71C503.28,410 504.43,411.72 505.57,412.01C506.72,412.3 507.87,411.34 509.02,411.44C510.17,411.53 511.61,412.49 512.47,412.59C513.33,412.68 513.91,412.11 514.2,412.01" fill="none" stroke="#f4b030" stroke-width="1.1" stroke-linejoin="round"/><path d="M290 383.5 V441.2 H513.2" fill="none" stroke="#7a7a7a" stroke-width="0.8"/><text x="290" y="449.6" text-anchor="middle" font-size="6.5" fill="#444444">0</text><text x="314.8" y="449.6" text-anchor="middle" font-size="6.5" fill="#444444">50</text><text x="339.6" y="449.6" text-anchor="middle" font-size="6.5" fill="#444444">100</text><text x="364.4" y="449.6" text-anchor="middle" font-size="6.5" fill="#444444">150</text><text x="389.2" y="449.6" text-anchor="middle" font-size="6.5" fill="#444444">200</text><text x="414" y="449.6" text-anchor="middle" font-size="6.5" fill="#444444">250</text><text x="438.8" y="449.6" text-anchor="middle" font-size="6.5" fill="#444444">300</text><text x="463.6" y="449.6" text-anchor="middle" font-size="6.5" fill="#444444">350</text><text x="488.4" y="449.6" text-anchor="middle" font-size="6.5" fill="#444444">400</text><text x="513.2" y="449.6" text-anchor="middle" font-size="6.5" fill="#444444">450</text><text x="287.7" y="443.4" text-anchor="end" font-size="6.5" fill="#444444">-2</text><text x="287.7" y="428.97" text-anchor="end" font-size="6.5" fill="#444444">-1</text><text x="287.7" y="414.55" text-anchor="end" font-size="6.5" fill="#444444">0</text><text x="287.7" y="400.12" text-anchor="end" font-size="6.5" fill="#444444">1</text><text x="287.7" y="385.7" text-anchor="end" font-size="6.5" fill="#444444">2</text><path d="M290 441.2 v-1.6 M314.8 441.2 v-1.6 M339.6 441.2 v-1.6 M364.4 441.2 v-1.6 M389.2 441.2 v-1.6 M414 441.2 v-1.6 M438.8 441.2 v-1.6 M463.6 441.2 v-1.6 M488.4 441.2 v-1.6 M513.2 441.2 v-1.6 M290 441.2 h1.6 M290 426.77 h1.6 M290 412.35 h1.6 M290 397.93 h1.6 M290 383.5 h1.6" stroke="#7a7a7a" stroke-width="0.7"/><text y="458.6" text-anchor="middle" font-size="8" fill="#444444"><tspan x="394.8" font-style="italic" font-size="8.8">t</tspan><tspan x="401.2" font-style="italic">/</tspan><tspan x="406.5">s</tspan></text><text transform="translate(277.7,412.7) rotate(-90)" text-anchor="middle" font-size="8" fill="#444444"><tspan font-style="italic" font-size="6.5">δ </tspan><tspan>V</tspan> / m/s</text><rect x="473.6" y="366.5" width="40.9" height="30.3" fill="#fff" stroke="#7a7a7a" stroke-width="0.9"/><line x1="478" y1="372.5" x2="496.6" y2="372.5" stroke="#2a92d9" stroke-width="1"/><text x="499" y="374.5" font-size="6.4" font-style="italic" fill="#383838"><tspan font-size="5.5">δ</tspan> <tspan font-size="7.6">V</tspan><tspan font-size="4.3" dx="1" dy="2.8">E</tspan></text><line x1="478" y1="381.9" x2="496.6" y2="381.9" stroke="#ee6c3e" stroke-width="1"/><text x="499" y="383.9" font-size="6.4" font-style="italic" fill="#383838"><tspan font-size="5.5">δ</tspan> <tspan font-size="7.6">V</tspan><tspan font-size="4.3" dx="1" dy="2.8">N</tspan></text><line x1="478" y1="391.5" x2="496.6" y2="391.5" stroke="#f4b030" stroke-width="1"/><text x="499" y="393.5" font-size="6.4" font-style="italic" fill="#383838"><tspan font-size="5.5">δ</tspan> <tspan font-size="7.6">V</tspan><tspan font-size="4.3" dx="1" dy="2.8">U</tspan></text></g><g><clipPath id="clip_d3"><rect x="289.8" y="469.9" width="223.9" height="58.4"/></clipPath><path clip-path="url(#clip_d3)" d="M290.15,508.32C291.93,508.43 296.94,508.61 300.87,508.97C304.81,509.32 309.81,510.11 313.75,510.47C317.68,510.83 320.9,510.83 324.48,511.11C328.05,511.4 331.27,511.83 335.2,512.18C339.14,512.54 344.14,513.33 348.08,513.26C352.01,513.19 355.23,511.86 358.8,511.75C362.38,511.65 365.96,512.47 369.53,512.61C373.11,512.76 376.68,512.68 380.26,512.61C383.84,512.54 387.7,511.94 390.99,512.18C394.28,512.43 397.29,513.7 400,514.09C402.71,514.48 404.85,514.47 407.27,514.55C409.7,514.62 413.11,514.24 414.55,514.55C415.98,514.85 415.45,516.52 415.91,516.36C416.36,516.21 416.82,513.94 417.27,513.64C417.73,513.33 418.18,514.7 418.64,514.55C419.09,514.39 419.55,512.73 420,512.73C420.45,512.73 420.91,514.85 421.36,514.55C421.82,514.24 422.27,512.35 422.73,510.91C423.18,509.47 423.64,506.21 424.09,505.91C424.55,505.61 425,508.26 425.45,509.09C425.91,509.92 426.36,511.06 426.82,510.91C427.27,510.76 427.65,509.39 428.18,508.18C428.71,506.97 429.39,505 430,503.64C430.61,502.27 431.29,500.15 431.82,500C432.35,499.85 432.73,502.42 433.18,502.73C433.64,503.03 434.09,501.21 434.55,501.82C435,502.42 435.45,505.91 435.91,506.36C436.36,506.82 436.82,505 437.27,504.55C437.73,504.09 438.18,503.79 438.64,503.64C439.09,503.48 439.11,503.42 440,503.64C440.89,503.85 441.02,504.8 443.98,504.94C446.94,505.08 453.17,504.75 457.77,504.48C462.37,504.21 466.97,503.52 471.56,503.33C476.16,503.14 480.76,503.33 485.36,503.33C489.95,503.33 494.55,503.22 499.15,503.33C503.75,503.45 510.64,503.91 512.94,504.02" fill="none" stroke="#2a92d9" stroke-width="1.1" stroke-linejoin="round"/><path clip-path="url(#clip_d3)" d="M290.15,508.32C291.93,508.54 296.94,509.14 300.87,509.61C304.81,510.07 309.81,510.75 313.75,511.11C317.68,511.47 320.9,511.93 324.48,511.75C328.05,511.58 331.27,510.61 335.2,510.04C339.14,509.47 344.14,508.75 348.08,508.32C352.01,507.89 355.23,507.71 358.8,507.46C362.38,507.21 365.96,507.11 369.53,506.82C373.11,506.53 376.68,506.1 380.26,505.75C383.84,505.39 387.7,504.9 390.99,504.67C394.28,504.44 397.29,504.39 400,504.36C402.71,504.34 405,504.44 407.27,504.55C409.55,504.65 412.35,504.39 413.64,505C414.92,505.61 414.55,508.56 415,508.18C415.45,507.8 415.91,503.18 416.36,502.73C416.82,502.27 417.27,503.94 417.73,505.45C418.18,506.97 418.64,510 419.09,511.82C419.55,513.64 420,515.91 420.45,516.36C420.91,516.82 421.36,515 421.82,514.55C422.27,514.09 422.73,513.94 423.18,513.64C423.64,513.33 424.02,512.27 424.55,512.73C425.08,513.18 425.76,516.36 426.36,516.36C426.97,516.36 427.58,513.18 428.18,512.73C428.79,512.27 429.39,513.64 430,513.64C430.61,513.64 431.21,513.18 431.82,512.73C432.42,512.27 433.11,511.97 433.64,510.91C434.17,509.85 434.55,508.18 435,506.36C435.45,504.55 435.83,501.36 436.36,500C436.89,498.64 437.58,498.79 438.18,498.18C438.79,497.58 438.27,496.46 440,496.36C441.73,496.26 444.85,497.19 448.57,497.59C452.3,497.98 457.77,498.43 462.37,498.74C466.97,499.04 471.56,499.16 476.16,499.43C480.76,499.69 485.74,499.89 489.95,500.34C494.17,500.8 497.62,501.69 501.45,502.18C505.28,502.68 511.03,503.14 512.94,503.33" fill="none" stroke="#ee6c3e" stroke-width="1.1" stroke-linejoin="round"/><path clip-path="url(#clip_d3)" d="M290.15,489.01C292.65,488.94 300.16,488.58 305.16,488.58C310.17,488.58 315.18,488.9 320.18,489.01C325.19,489.12 330.2,489.08 335.2,489.23C340.21,489.37 346.29,489.8 350.22,489.87C354.16,489.94 355.59,489.8 358.8,489.66C362.02,489.51 366.31,488.9 369.53,489.01C372.75,489.12 375.61,489.83 378.11,490.3C380.62,490.76 382.41,491.73 384.55,491.8C386.7,491.87 388.41,490.88 390.99,490.73C393.56,490.58 397.59,490.65 400,490.91C402.41,491.17 403.18,492.2 405.45,492.27C407.73,492.35 412.05,492.2 413.64,491.36C415.23,490.53 414.55,488.41 415,487.27C415.45,486.14 415.91,484.92 416.36,484.55C416.82,484.17 417.27,485.61 417.73,485C418.18,484.39 418.64,481.97 419.09,480.91C419.55,479.85 420,479.24 420.45,478.64C420.91,478.03 421.44,477.05 421.82,477.27C422.2,477.5 422.35,479.7 422.73,480C423.11,480.3 423.64,478.56 424.09,479.09C424.55,479.62 425,482.05 425.45,483.18C425.91,484.32 426.36,485.98 426.82,485.91C427.27,485.83 427.65,483.86 428.18,482.73C428.71,481.59 429.39,480 430,479.09C430.61,478.18 431.29,477.35 431.82,477.27C432.35,477.2 432.73,478.48 433.18,478.64C433.64,478.79 434.09,478.71 434.55,478.18C435,477.65 435.45,476.36 435.91,475.45C436.36,474.55 436.82,472.73 437.27,472.73C437.73,472.73 438.18,474.85 438.64,475.45C439.09,476.06 438.73,476.31 440,476.36C441.27,476.41 443.7,475.47 446.28,475.75C448.85,476.03 452.02,477.39 455.47,478.05C458.92,478.7 463.52,479.46 466.97,479.66C470.41,479.85 472.33,479.2 476.16,479.2C479.99,479.2 483.63,479.58 489.95,479.66C496.28,479.73 510.07,479.66 514.09,479.66" fill="none" stroke="#f4b030" stroke-width="1.1" stroke-linejoin="round"/><path d="M289.8 470.4 V528.3 H513.2" fill="none" stroke="#7a7a7a" stroke-width="0.8"/><text x="289.8" y="536.7" text-anchor="middle" font-size="6.5" fill="#444444">0</text><text x="314.62" y="536.7" text-anchor="middle" font-size="6.5" fill="#444444">50</text><text x="339.44" y="536.7" text-anchor="middle" font-size="6.5" fill="#444444">100</text><text x="364.27" y="536.7" text-anchor="middle" font-size="6.5" fill="#444444">150</text><text x="389.09" y="536.7" text-anchor="middle" font-size="6.5" fill="#444444">200</text><text x="413.91" y="536.7" text-anchor="middle" font-size="6.5" fill="#444444">250</text><text x="438.73" y="536.7" text-anchor="middle" font-size="6.5" fill="#444444">300</text><text x="463.56" y="536.7" text-anchor="middle" font-size="6.5" fill="#444444">350</text><text x="488.38" y="536.7" text-anchor="middle" font-size="6.5" fill="#444444">400</text><text x="513.2" y="536.7" text-anchor="middle" font-size="6.5" fill="#444444">450</text><text x="287.5" y="530.5" text-anchor="end" font-size="6.5" fill="#444444">-50</text><text x="287.5" y="511.2" text-anchor="end" font-size="6.5" fill="#444444">0</text><text x="287.5" y="491.9" text-anchor="end" font-size="6.5" fill="#444444">50</text><text x="287.5" y="472.6" text-anchor="end" font-size="6.5" fill="#444444">100</text><path d="M289.8 528.3 v-1.6 M314.62 528.3 v-1.6 M339.44 528.3 v-1.6 M364.27 528.3 v-1.6 M389.09 528.3 v-1.6 M413.91 528.3 v-1.6 M438.73 528.3 v-1.6 M463.56 528.3 v-1.6 M488.38 528.3 v-1.6 M513.2 528.3 v-1.6 M289.8 528.3 h1.6 M289.8 509 h1.6 M289.8 489.7 h1.6 M289.8 470.4 h1.6" stroke="#7a7a7a" stroke-width="0.7"/><text y="545.7" text-anchor="middle" font-size="8" fill="#444444"><tspan x="394.7" font-style="italic" font-size="8.8">t</tspan><tspan x="401.1" font-style="italic">/</tspan><tspan x="406.4">s</tspan></text><text transform="translate(272,498.3) rotate(-90)" text-anchor="middle" font-size="8.5" fill="#444444"><tspan font-style="italic"><tspan font-size="7">ϕ</tspan>  /  <tspan font-weight="bold">ı</tspan></tspan></text><rect x="475.8" y="451.7" width="38.7" height="31" fill="#fff" stroke="#7a7a7a" stroke-width="0.9"/><line x1="479.9" y1="457.8" x2="501.7" y2="457.8" stroke="#2a92d9" stroke-width="1"/><text x="504" y="459.8" font-size="6.4" font-style="italic" fill="#383838">ϕ<tspan font-size="4" dy="2">E</tspan></text><line x1="479.9" y1="467.5" x2="501.7" y2="467.5" stroke="#ee6c3e" stroke-width="1"/><text x="504" y="469.5" font-size="6.4" font-style="italic" fill="#383838">ϕ<tspan font-size="4" dy="2">N</tspan></text><line x1="479.9" y1="476.8" x2="501.7" y2="476.8" stroke="#f4b030" stroke-width="1"/><text x="504" y="478.8" font-size="6.4" font-style="italic" fill="#383838">ϕ<tspan font-size="4" dy="2">U</tspan></text></g><text x="95.0" y="15.600000000000001" font-size="9" font-weight="bold" fill="#000" font-family="Liberation Serif, serif">(a)</text><text x="109.5" y="15.600000000000001" font-size="8.1" font-weight="bold" fill="#000" stroke="#000" stroke-width="0.25" textLength="60.2" lengthAdjust="spacingAndGlyphs">Sage-Husa Filter</text><text x="349.0" y="13.200000000000001" font-size="9" font-weight="bold" fill="#000" font-family="Liberation Serif, serif">(b)</text><text x="364.1" y="13.200000000000001" font-size="8.1" font-weight="bold" fill="#000" stroke="#000" stroke-width="0.25" textLength="79.8" lengthAdjust="spacingAndGlyphs">Strong Tracking Filter</text><text x="332.5" y="292.0" font-size="9" font-weight="bold" fill="#000" font-family="Liberation Serif, serif">(d)</text><text x="346.8" y="292.0" font-size="8.1" font-weight="bold" fill="#000" stroke="#000" stroke-width="0.25" textLength="110" lengthAdjust="spacingAndGlyphs">Strong Adaptive Kalman Filter</text><text x="111" y="287.6" font-size="9" font-weight="bold" fill="#000" font-family="Liberation Serif, serif">(c)</text><text x="124.5" y="287.6" font-size="8.1" font-weight="bold" fill="#000" stroke="#000" stroke-width="0.25">H</text><text x="130.4" y="290.6" font-size="6" font-weight="bold" fill="#333" textLength="6.2" lengthAdjust="spacingAndGlyphs">∞</text><text x="138.6" y="287.6" font-size="8.1" font-weight="bold" fill="#000" stroke="#000" stroke-width="0.25" textLength="19" lengthAdjust="spacingAndGlyphs">Filter</text>
</svg></body></html>
